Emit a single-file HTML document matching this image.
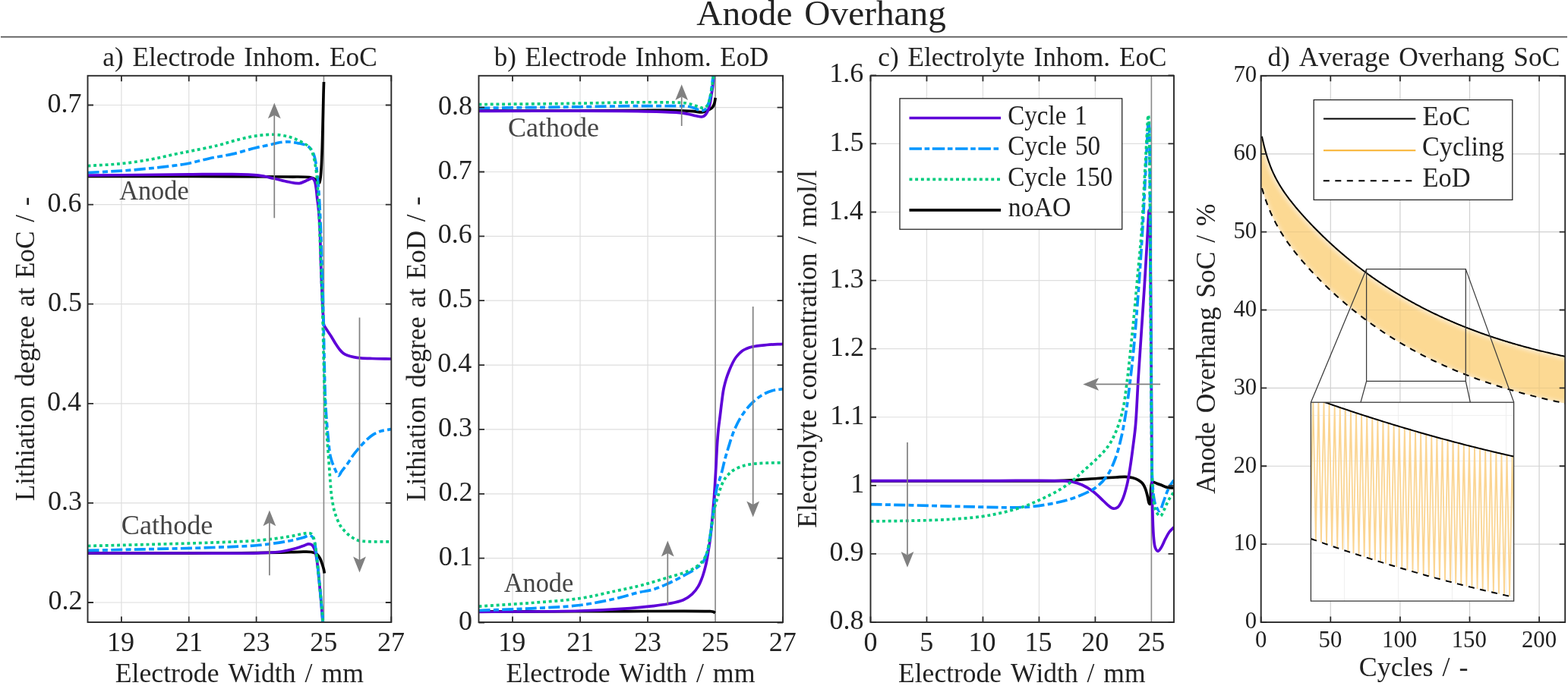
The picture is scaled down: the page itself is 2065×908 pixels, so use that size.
<!DOCTYPE html>
<html><head><meta charset="utf-8"><title>Anode Overhang</title>
<style>
html,body{margin:0;padding:0;background:#fff;}
svg{display:block;}
text{font-family:"Liberation Serif","DejaVu Serif",serif;font-kerning:none;font-variant-ligatures:none;word-spacing:0.085em;}
</style></head><body>
<svg width="2065" height="908" viewBox="0 0 2065 908">
<rect width="2065" height="908" fill="#fff"/>
<defs>
<clipPath id="ca"><rect x="115.5" y="99.8" width="399.79999999999995" height="720.2"/></clipPath>
<clipPath id="cb"><rect x="630.5" y="99.8" width="400.5999999999999" height="720.2"/></clipPath>
<clipPath id="cc"><rect x="1146.5" y="99.8" width="399.5" height="720.2"/></clipPath>
<clipPath id="cd"><rect x="1660.7" y="99.8" width="400.4999999999998" height="720.2"/></clipPath>
<clipPath id="ci"><rect x="1726.4" y="530.2" width="267.2" height="261.9"/></clipPath>
</defs>
<defs><clipPath id="cband"><path d="M1661.91,179.69 L1662.91,184.39 L1663.91,188.78 L1664.91,192.91 L1665.91,196.79 L1666.91,200.44 L1667.91,203.89 L1668.91,207.14 L1669.91,210.23 L1670.91,213.15 L1671.91,215.93 L1672.91,218.57 L1673.91,221.10 L1674.91,223.51 L1675.91,225.83 L1676.91,228.04 L1677.91,230.18 L1678.91,232.23 L1679.91,234.21 L1680.91,236.13 L1681.91,237.98 L1682.91,239.78 L1683.91,241.53 L1684.91,243.23 L1685.91,244.88 L1686.91,246.50 L1687.91,248.08 L1688.91,249.62 L1689.91,251.13 L1690.91,252.61 L1691.91,254.06 L1692.91,255.49 L1693.91,256.90 L1694.91,258.28 L1695.91,259.64 L1696.91,260.98 L1697.91,262.31 L1698.91,263.61 L1699.91,264.90 L1700.91,266.18 L1701.91,267.44 L1702.91,268.69 L1703.91,269.92 L1704.91,271.15 L1705.91,272.36 L1706.91,273.56 L1707.91,274.75 L1708.91,275.93 L1709.91,277.10 L1710.91,278.27 L1711.91,279.42 L1712.91,280.56 L1713.91,281.70 L1714.91,282.83 L1715.91,283.95 L1716.91,285.07 L1717.91,286.17 L1718.91,287.27 L1719.91,288.37 L1720.91,289.45 L1721.91,290.53 L1722.91,291.61 L1723.91,292.68 L1724.91,293.74 L1725.91,294.79 L1726.91,295.84 L1727.91,296.89 L1728.91,297.93 L1729.91,298.96 L1730.91,299.99 L1731.91,301.01 L1732.91,302.03 L1733.91,303.04 L1734.91,304.05 L1735.91,305.05 L1736.91,306.05 L1737.91,307.04 L1738.91,308.02 L1739.91,309.01 L1740.91,309.98 L1741.91,310.95 L1742.91,311.92 L1743.91,312.88 L1744.91,313.84 L1745.91,314.79 L1746.91,315.74 L1747.91,316.69 L1748.91,317.63 L1749.91,318.56 L1750.91,319.49 L1751.91,320.42 L1752.91,321.34 L1753.91,322.25 L1754.91,323.17 L1755.91,324.07 L1756.91,324.98 L1757.91,325.88 L1758.91,326.77 L1759.91,327.66 L1760.91,328.55 L1761.91,329.43 L1762.91,330.31 L1763.91,331.18 L1764.91,332.05 L1765.91,332.92 L1766.91,333.78 L1767.91,334.63 L1768.91,335.49 L1769.91,336.34 L1770.91,337.18 L1771.91,338.02 L1772.91,338.86 L1773.91,339.69 L1774.91,340.52 L1775.91,341.35 L1776.91,342.17 L1777.91,342.98 L1778.91,343.80 L1779.91,344.61 L1780.91,345.41 L1781.91,346.21 L1782.91,347.01 L1783.91,347.81 L1784.91,348.60 L1785.91,349.38 L1786.91,350.17 L1787.91,350.95 L1788.91,351.72 L1789.91,352.49 L1790.91,353.26 L1791.91,354.03 L1792.91,354.79 L1793.91,355.54 L1794.91,356.30 L1795.91,357.05 L1796.91,357.79 L1797.91,358.54 L1798.91,359.28 L1799.91,360.01 L1800.91,360.74 L1801.91,361.47 L1802.91,362.20 L1803.91,362.92 L1804.91,363.64 L1805.91,364.35 L1806.91,365.07 L1807.91,365.77 L1808.91,366.48 L1809.91,367.18 L1810.91,367.88 L1811.91,368.57 L1812.91,369.27 L1813.91,369.95 L1814.91,370.64 L1815.91,371.32 L1816.91,372.00 L1817.91,372.68 L1818.91,373.35 L1819.91,374.02 L1820.91,374.68 L1821.91,375.35 L1822.91,376.01 L1823.91,376.66 L1824.91,377.32 L1825.91,377.97 L1826.91,378.61 L1827.91,379.26 L1828.91,379.90 L1829.91,380.54 L1830.91,381.17 L1831.91,381.80 L1832.91,382.43 L1833.91,383.06 L1834.91,383.68 L1835.91,384.30 L1836.91,384.92 L1837.91,385.53 L1838.91,386.14 L1839.91,386.75 L1840.91,387.36 L1841.91,387.96 L1842.91,388.56 L1843.91,389.16 L1844.91,389.75 L1845.91,390.34 L1846.91,390.93 L1847.91,391.52 L1848.91,392.10 L1849.91,392.68 L1850.91,393.26 L1851.91,393.83 L1852.91,394.40 L1853.91,394.97 L1854.91,395.54 L1855.91,396.10 L1856.91,396.66 L1857.91,397.22 L1858.91,397.78 L1859.91,398.33 L1860.91,398.88 L1861.91,399.43 L1862.91,399.97 L1863.91,400.52 L1864.91,401.06 L1865.91,401.59 L1866.91,402.13 L1867.91,402.66 L1868.91,403.19 L1869.91,403.72 L1870.91,404.24 L1871.91,404.77 L1872.91,405.29 L1873.91,405.80 L1874.91,406.32 L1875.91,406.83 L1876.91,407.34 L1877.91,407.85 L1878.91,408.36 L1879.91,408.86 L1880.91,409.36 L1881.91,409.86 L1882.91,410.35 L1883.91,410.85 L1884.91,411.34 L1885.91,411.83 L1886.91,412.31 L1887.91,412.80 L1888.91,413.28 L1889.91,413.76 L1890.91,414.24 L1891.91,414.71 L1892.91,415.18 L1893.91,415.65 L1894.91,416.12 L1895.91,416.59 L1896.91,417.05 L1897.91,417.51 L1898.91,417.97 L1899.91,418.43 L1900.91,418.89 L1901.91,419.34 L1902.91,419.79 L1903.91,420.24 L1904.91,420.68 L1905.91,421.13 L1906.91,421.57 L1907.91,422.01 L1908.91,422.45 L1909.91,422.89 L1910.91,423.32 L1911.91,423.75 L1912.91,424.18 L1913.91,424.61 L1914.91,425.03 L1915.91,425.46 L1916.91,425.88 L1917.91,426.30 L1918.91,426.72 L1919.91,427.13 L1920.91,427.55 L1921.91,427.96 L1922.91,428.37 L1923.91,428.78 L1924.91,429.18 L1925.91,429.59 L1926.91,429.99 L1927.91,430.39 L1928.91,430.79 L1929.91,431.18 L1930.91,431.58 L1931.91,431.97 L1932.91,432.36 L1933.91,432.75 L1934.91,433.14 L1935.91,433.52 L1936.91,433.91 L1937.91,434.29 L1938.91,434.67 L1939.91,435.05 L1940.91,435.42 L1941.91,435.80 L1942.91,436.17 L1943.91,436.54 L1944.91,436.91 L1945.91,437.28 L1946.91,437.64 L1947.91,438.01 L1948.91,438.37 L1949.91,438.73 L1950.91,439.09 L1951.91,439.45 L1952.91,439.80 L1953.91,440.15 L1954.91,440.51 L1955.91,440.86 L1956.91,441.21 L1957.91,441.55 L1958.91,441.90 L1959.91,442.24 L1960.91,442.58 L1961.91,442.92 L1962.91,443.26 L1963.91,443.60 L1964.91,443.94 L1965.91,444.27 L1966.91,444.60 L1967.91,444.93 L1968.91,445.26 L1969.91,445.59 L1970.91,445.92 L1971.91,446.24 L1972.91,446.56 L1973.91,446.89 L1974.91,447.21 L1975.91,447.52 L1976.91,447.84 L1977.91,448.16 L1978.91,448.47 L1979.91,448.78 L1980.91,449.09 L1981.91,449.40 L1982.91,449.71 L1983.91,450.02 L1984.91,450.32 L1985.91,450.63 L1986.91,450.93 L1987.91,451.23 L1988.91,451.53 L1989.91,451.83 L1990.91,452.12 L1991.91,452.42 L1992.91,452.71 L1993.91,453.01 L1994.91,453.30 L1995.91,453.59 L1996.91,453.88 L1997.91,454.16 L1998.91,454.45 L1999.91,454.73 L2000.91,455.01 L2001.91,455.30 L2002.91,455.58 L2003.91,455.85 L2004.91,456.13 L2005.91,456.41 L2006.91,456.68 L2007.91,456.96 L2008.91,457.23 L2009.91,457.50 L2010.91,457.77 L2011.91,458.04 L2012.91,458.31 L2013.91,458.57 L2014.91,458.84 L2015.91,459.10 L2016.91,459.36 L2017.91,459.62 L2018.91,459.88 L2019.91,460.14 L2020.91,460.40 L2021.91,460.65 L2022.91,460.91 L2023.91,461.16 L2024.91,461.41 L2025.91,461.66 L2026.91,461.91 L2027.91,462.16 L2028.91,462.41 L2029.91,462.66 L2030.91,462.90 L2031.91,463.15 L2032.91,463.39 L2033.91,463.63 L2034.91,463.87 L2035.91,464.11 L2036.91,464.35 L2037.91,464.59 L2038.91,464.82 L2039.91,465.06 L2040.91,465.29 L2041.91,465.52 L2042.91,465.75 L2043.91,465.99 L2044.91,466.21 L2045.91,466.44 L2046.91,466.67 L2047.91,466.90 L2048.91,467.12 L2049.91,467.35 L2050.91,467.57 L2051.91,467.79 L2052.91,468.01 L2053.91,468.23 L2054.91,468.45 L2055.91,468.67 L2056.91,468.88 L2057.91,469.10 L2058.91,469.31 L2059.91,469.53 L2060.91,469.74 L2061.91,469.95 L2061.91,531.71 L2060.91,531.50 L2059.91,531.29 L2058.91,531.09 L2057.91,530.88 L2056.91,530.67 L2055.91,530.45 L2054.91,530.24 L2053.91,530.03 L2052.91,529.81 L2051.91,529.60 L2050.91,529.38 L2049.91,529.16 L2048.91,528.95 L2047.91,528.73 L2046.91,528.50 L2045.91,528.28 L2044.91,528.06 L2043.91,527.84 L2042.91,527.61 L2041.91,527.38 L2040.91,527.16 L2039.91,526.93 L2038.91,526.70 L2037.91,526.47 L2036.91,526.24 L2035.91,526.00 L2034.91,525.77 L2033.91,525.53 L2032.91,525.30 L2031.91,525.06 L2030.91,524.82 L2029.91,524.58 L2028.91,524.34 L2027.91,524.10 L2026.91,523.85 L2025.91,523.61 L2024.91,523.36 L2023.91,523.11 L2022.91,522.87 L2021.91,522.62 L2020.91,522.37 L2019.91,522.11 L2018.91,521.86 L2017.91,521.61 L2016.91,521.35 L2015.91,521.09 L2014.91,520.83 L2013.91,520.58 L2012.91,520.31 L2011.91,520.05 L2010.91,519.79 L2009.91,519.52 L2008.91,519.26 L2007.91,518.99 L2006.91,518.72 L2005.91,518.45 L2004.91,518.18 L2003.91,517.91 L2002.91,517.64 L2001.91,517.36 L2000.91,517.08 L1999.91,516.81 L1998.91,516.53 L1997.91,516.25 L1996.91,515.96 L1995.91,515.68 L1994.91,515.40 L1993.91,515.11 L1992.91,514.82 L1991.91,514.53 L1990.91,514.24 L1989.91,513.95 L1988.91,513.66 L1987.91,513.36 L1986.91,513.07 L1985.91,512.77 L1984.91,512.47 L1983.91,512.17 L1982.91,511.87 L1981.91,511.56 L1980.91,511.26 L1979.91,510.95 L1978.91,510.65 L1977.91,510.34 L1976.91,510.02 L1975.91,509.71 L1974.91,509.40 L1973.91,509.08 L1972.91,508.77 L1971.91,508.45 L1970.91,508.13 L1969.91,507.81 L1968.91,507.48 L1967.91,507.16 L1966.91,506.83 L1965.91,506.50 L1964.91,506.17 L1963.91,505.84 L1962.91,505.51 L1961.91,505.17 L1960.91,504.84 L1959.91,504.50 L1958.91,504.16 L1957.91,503.82 L1956.91,503.48 L1955.91,503.13 L1954.91,502.79 L1953.91,502.44 L1952.91,502.09 L1951.91,501.74 L1950.91,501.38 L1949.91,501.03 L1948.91,500.67 L1947.91,500.32 L1946.91,499.96 L1945.91,499.59 L1944.91,499.23 L1943.91,498.86 L1942.91,498.50 L1941.91,498.13 L1940.91,497.76 L1939.91,497.39 L1938.91,497.01 L1937.91,496.64 L1936.91,496.26 L1935.91,495.88 L1934.91,495.50 L1933.91,495.11 L1932.91,494.73 L1931.91,494.34 L1930.91,493.95 L1929.91,493.56 L1928.91,493.17 L1927.91,492.77 L1926.91,492.37 L1925.91,491.98 L1924.91,491.57 L1923.91,491.17 L1922.91,490.77 L1921.91,490.36 L1920.91,489.95 L1919.91,489.54 L1918.91,489.13 L1917.91,488.71 L1916.91,488.30 L1915.91,487.88 L1914.91,487.46 L1913.91,487.03 L1912.91,486.61 L1911.91,486.18 L1910.91,485.75 L1909.91,485.32 L1908.91,484.89 L1907.91,484.45 L1906.91,484.02 L1905.91,483.58 L1904.91,483.13 L1903.91,482.69 L1902.91,482.24 L1901.91,481.80 L1900.91,481.34 L1899.91,480.89 L1898.91,480.44 L1897.91,479.98 L1896.91,479.52 L1895.91,479.06 L1894.91,478.59 L1893.91,478.13 L1892.91,477.66 L1891.91,477.19 L1890.91,476.72 L1889.91,476.24 L1888.91,475.76 L1887.91,475.28 L1886.91,474.80 L1885.91,474.32 L1884.91,473.83 L1883.91,473.34 L1882.91,472.85 L1881.91,472.35 L1880.91,471.86 L1879.91,471.36 L1878.91,470.85 L1877.91,470.35 L1876.91,469.84 L1875.91,469.33 L1874.91,468.82 L1873.91,468.31 L1872.91,467.79 L1871.91,467.27 L1870.91,466.75 L1869.91,466.23 L1868.91,465.70 L1867.91,465.17 L1866.91,464.64 L1865.91,464.10 L1864.91,463.57 L1863.91,463.03 L1862.91,462.48 L1861.91,461.94 L1860.91,461.39 L1859.91,460.84 L1858.91,460.29 L1857.91,459.73 L1856.91,459.17 L1855.91,458.61 L1854.91,458.05 L1853.91,457.48 L1852.91,456.91 L1851.91,456.34 L1850.91,455.76 L1849.91,455.19 L1848.91,454.61 L1847.91,454.02 L1846.91,453.44 L1845.91,452.85 L1844.91,452.25 L1843.91,451.66 L1842.91,451.06 L1841.91,450.46 L1840.91,449.86 L1839.91,449.25 L1838.91,448.64 L1837.91,448.03 L1836.91,447.41 L1835.91,446.79 L1834.91,446.17 L1833.91,445.54 L1832.91,444.92 L1831.91,444.28 L1830.91,443.65 L1829.91,443.01 L1828.91,442.37 L1827.91,441.73 L1826.91,441.08 L1825.91,440.43 L1824.91,439.78 L1823.91,439.12 L1822.91,438.46 L1821.91,437.80 L1820.91,437.14 L1819.91,436.47 L1818.91,435.79 L1817.91,435.12 L1816.91,434.44 L1815.91,433.76 L1814.91,433.07 L1813.91,432.38 L1812.91,431.69 L1811.91,430.99 L1810.91,430.29 L1809.91,429.59 L1808.91,428.89 L1807.91,428.18 L1806.91,427.46 L1805.91,426.75 L1804.91,426.03 L1803.91,425.30 L1802.91,424.57 L1801.91,423.84 L1800.91,423.11 L1799.91,422.37 L1798.91,421.63 L1797.91,420.89 L1796.91,420.14 L1795.91,419.38 L1794.91,418.63 L1793.91,417.87 L1792.91,417.10 L1791.91,416.34 L1790.91,415.57 L1789.91,414.79 L1788.91,414.01 L1787.91,413.23 L1786.91,412.44 L1785.91,411.65 L1784.91,410.86 L1783.91,410.06 L1782.91,409.26 L1781.91,408.45 L1780.91,407.64 L1779.91,406.83 L1778.91,406.01 L1777.91,405.19 L1776.91,404.36 L1775.91,403.53 L1774.91,402.70 L1773.91,401.86 L1772.91,401.02 L1771.91,400.17 L1770.91,399.32 L1769.91,398.46 L1768.91,397.60 L1767.91,396.74 L1766.91,395.87 L1765.91,395.00 L1764.91,394.12 L1763.91,393.24 L1762.91,392.36 L1761.91,391.47 L1760.91,390.57 L1759.91,389.67 L1758.91,388.77 L1757.91,387.86 L1756.91,386.95 L1755.91,386.03 L1754.91,385.11 L1753.91,384.19 L1752.91,383.25 L1751.91,382.32 L1750.91,381.38 L1749.91,380.43 L1748.91,379.48 L1747.91,378.53 L1746.91,377.56 L1745.91,376.60 L1744.91,375.63 L1743.91,374.65 L1742.91,373.67 L1741.91,372.69 L1740.91,371.69 L1739.91,370.70 L1738.91,369.69 L1737.91,368.69 L1736.91,367.67 L1735.91,366.65 L1734.91,365.63 L1733.91,364.60 L1732.91,363.56 L1731.91,362.52 L1730.91,361.47 L1729.91,360.42 L1728.91,359.36 L1727.91,358.29 L1726.91,357.22 L1725.91,356.14 L1724.91,355.05 L1723.91,353.96 L1722.91,352.86 L1721.91,351.75 L1720.91,350.63 L1719.91,349.51 L1718.91,348.38 L1717.91,347.24 L1716.91,346.09 L1715.91,344.94 L1714.91,343.78 L1713.91,342.60 L1712.91,341.42 L1711.91,340.23 L1710.91,339.03 L1709.91,337.82 L1708.91,336.60 L1707.91,335.36 L1706.91,334.12 L1705.91,332.87 L1704.91,331.60 L1703.91,330.32 L1702.91,329.03 L1701.91,327.72 L1700.91,326.40 L1699.91,325.06 L1698.91,323.71 L1697.91,322.34 L1696.91,320.96 L1695.91,319.55 L1694.91,318.13 L1693.91,316.69 L1692.91,315.23 L1691.91,313.74 L1690.91,312.23 L1689.91,310.70 L1688.91,309.14 L1687.91,307.55 L1686.91,305.93 L1685.91,304.29 L1684.91,302.61 L1683.91,300.89 L1682.91,299.14 L1681.91,297.35 L1680.91,295.52 L1679.91,293.64 L1678.91,291.72 L1677.91,289.75 L1676.91,287.72 L1675.91,285.64 L1674.91,283.50 L1673.91,281.29 L1672.91,279.02 L1671.91,276.67 L1670.91,274.25 L1669.91,271.74 L1668.91,269.14 L1667.91,266.45 L1666.91,263.66 L1665.91,260.76 L1664.91,257.74 L1663.91,254.60 L1662.91,251.33 L1661.91,247.92Z"/></clipPath><filter id="bl3" x="-10%" y="-10%" width="120%" height="120%"><feGaussianBlur stdDeviation="3"/></filter><filter id="bl2" x="-10%" y="-10%" width="120%" height="120%"><feGaussianBlur stdDeviation="2"/></filter></defs>
<path d="M1,48.6H2064" stroke="#555" stroke-width="1.7"/>
<path d="M159.92,99.80V820.00 M248.76,99.80V820.00 M337.60,99.80V820.00 M426.44,99.80V820.00 M115.50,794.00H515.30 M115.50,662.90H515.30 M115.50,531.80H515.30 M115.50,400.70H515.30 M115.50,269.60H515.30 M115.50,138.50H515.30" stroke="#dedede" stroke-width="1.2" fill="none"/>
<path d="M426.44,99.8V820.0" stroke="#8a8a8a" stroke-width="1.6"/>
<path d="M115.50,232.30 C177.00,232.40 251.16,232.44 300.00,232.60 C332.16,232.71 360.29,232.74 380.00,233.00 C391.56,233.15 401.54,232.68 407.50,233.60 C410.46,234.06 412.13,234.46 414.00,235.50 C415.76,236.48 417.35,238.42 418.50,239.50 C419.25,240.21 419.81,241.43 420.30,241.30 C421.03,241.11 421.38,238.27 421.80,236.00 C422.51,232.13 422.81,225.93 423.20,220.00 C423.69,212.60 423.99,204.03 424.30,195.00 C424.67,184.31 424.92,171.67 425.20,160.00 C425.48,148.33 425.75,134.58 426.00,125.00 C426.17,118.32 426.33,113.67 426.50,108.00" stroke="#000000" stroke-width="3.7" fill="none" stroke-linejoin="round" clip-path="url(#ca)"/>
<path d="M115.50,729.20 C177.00,729.13 253.12,729.29 300.00,729.00 C328.88,728.82 352.55,728.61 370.00,728.20 C380.43,727.95 387.72,727.38 395.00,727.30 C400.63,727.24 405.99,726.78 410.00,727.50 C412.82,728.01 415.09,728.59 417.00,730.00 C418.92,731.42 420.27,733.76 421.50,736.00 C422.81,738.39 423.66,741.51 424.50,744.00 C425.22,746.13 425.83,748.03 426.30,750.00 C426.75,751.86 426.97,753.67 427.30,755.50" stroke="#000000" stroke-width="3.7" fill="none" stroke-linejoin="round" clip-path="url(#ca)"/>
<path d="M115.50,231.20 C159.77,230.77 214.32,230.17 248.30,229.90 C269.46,229.73 283.65,229.33 299.80,229.60 C314.17,229.84 329.31,229.86 340.50,231.20 C348.48,232.16 354.14,233.85 360.80,235.30 C367.30,236.72 374.04,238.73 380.00,239.80 C385.09,240.71 389.91,242.15 394.30,241.60 C398.27,241.11 402.15,238.52 405.30,237.30 C407.66,236.38 409.95,234.47 411.50,234.90 C412.79,235.26 413.56,236.91 414.30,238.50 C415.38,240.83 415.75,244.51 416.30,248.00 C416.97,252.20 417.27,257.42 417.80,262.00 C418.31,266.42 418.91,269.96 419.40,275.00 C420.08,281.98 420.70,290.23 421.20,300.00 C421.90,313.80 422.12,333.27 422.70,350.00 C423.29,366.87 424.08,387.91 424.70,400.80 C425.08,408.73 425.41,414.98 425.80,420.00 C426.06,423.24 425.84,425.60 426.60,428.00 C427.31,430.23 428.66,431.82 430.00,434.00 C431.68,436.72 434.04,439.90 436.00,443.00 C438.04,446.22 439.98,449.89 442.00,453.00 C443.85,455.85 445.76,458.78 447.60,461.00 C449.08,462.79 450.31,464.25 452.00,465.50 C453.76,466.80 455.80,467.77 458.00,468.60 C460.43,469.52 463.24,470.07 466.00,470.60 C468.90,471.15 471.61,471.50 475.00,471.80 C479.36,472.19 484.35,472.31 490.00,472.50 C497.34,472.74 506.87,472.83 515.30,473.00" stroke="#5e00d8" stroke-width="3.7" fill="none" stroke-linejoin="round" clip-path="url(#ca)"/>
<path d="M115.50,729.00 C160.33,729.00 209.65,729.04 250.00,729.00 C283.00,728.96 318.05,729.48 340.00,728.80 C352.69,728.41 361.06,728.27 370.00,727.00 C377.39,725.95 384.51,724.02 390.00,722.50 C393.94,721.41 397.02,720.21 400.00,719.20 C402.43,718.38 404.62,716.93 406.60,716.90 C408.21,716.88 409.78,717.32 411.00,718.30 C412.45,719.47 413.40,721.71 414.30,724.00 C415.48,727.00 416.09,731.03 416.80,735.00 C417.63,739.60 418.15,744.36 418.80,750.00 C419.63,757.27 420.42,766.67 421.20,775.00 C421.98,783.33 422.82,791.66 423.50,800.00 C424.18,808.33 424.70,816.67 425.30,825.00" stroke="#5e00d8" stroke-width="3.7" fill="none" stroke-linejoin="round" clip-path="url(#ca)"/>
<path d="M115.50,227.50 C130.40,226.70 145.74,226.12 160.20,225.10 C173.86,224.13 187.68,222.84 200.00,221.60 C210.71,220.52 221.49,219.33 230.00,218.20 C236.32,217.36 240.23,216.91 246.50,215.70 C254.96,214.06 266.14,210.82 276.10,208.70 C286.17,206.55 296.49,205.22 306.60,202.90 C316.79,200.56 328.38,196.78 337.00,194.70 C343.31,193.18 348.00,192.40 353.50,191.20 C359.00,190.00 364.87,188.17 370.00,187.50 C374.37,186.93 378.45,186.76 382.30,187.00 C385.74,187.21 388.75,187.94 392.00,188.60 C395.32,189.27 399.11,189.74 402.00,191.00 C404.54,192.11 406.79,193.48 408.60,195.40 C410.49,197.41 411.84,200.06 413.00,202.90 C414.33,206.16 415.07,210.21 415.80,214.00 C416.55,217.90 416.89,221.67 417.40,226.00 C418.00,231.08 418.60,236.85 419.10,242.60 C419.64,248.81 420.05,254.45 420.50,262.00 C421.13,272.55 421.75,286.46 422.30,300.00 C422.93,315.52 423.47,333.33 424.00,350.00 C424.53,366.67 425.04,381.93 425.50,400.00 C426.05,421.37 426.51,448.63 427.00,470.00 C427.41,488.07 427.68,506.20 428.20,520.00 C428.57,529.77 428.91,536.29 429.50,545.00 C430.15,554.55 431.01,565.30 432.00,575.00 C432.93,584.17 433.72,594.93 435.20,601.70 C436.14,605.99 437.35,608.92 438.50,612.00 C439.46,614.58 440.35,616.61 441.50,619.00 C442.76,621.60 444.30,626.91 445.80,627.00 C447.15,627.08 448.34,623.26 450.00,621.00 C452.23,617.96 455.57,614.05 458.10,610.50 C460.56,607.05 462.59,603.30 465.00,600.00 C467.30,596.85 469.56,594.15 472.20,591.10 C475.16,587.67 478.64,583.67 482.00,580.50 C485.12,577.56 488.18,574.71 491.60,572.60 C494.87,570.59 498.25,569.15 502.00,568.00 C506.09,566.75 510.87,566.40 515.30,565.60" stroke="#0096ff" stroke-width="3.7" fill="none" stroke-linejoin="round" stroke-dasharray="15 4.3 7 4.3" clip-path="url(#ca)"/>
<path d="M115.50,725.40 C143.67,724.80 172.22,724.26 200.00,723.60 C227.03,722.96 255.25,722.44 280.00,721.50 C301.44,720.68 322.05,720.18 340.00,718.50 C354.71,717.12 369.00,715.07 380.00,713.00 C387.85,711.52 395.03,709.72 400.00,708.20 C403.04,707.27 405.18,705.48 407.20,705.50 C408.67,705.51 409.96,705.99 411.00,707.00 C412.42,708.38 413.18,711.21 414.00,714.00 C415.13,717.81 415.67,722.80 416.40,728.00 C417.31,734.50 417.97,742.10 418.80,750.00 C419.76,759.22 420.85,770.00 421.80,780.00 C422.75,790.00 423.82,801.71 424.50,810.00 C424.98,815.86 425.23,820.00 425.60,825.00" stroke="#0096ff" stroke-width="3.7" fill="none" stroke-linejoin="round" stroke-dasharray="15 4.3 7 4.3" clip-path="url(#ca)"/>
<path d="M115.50,218.60 C130.40,217.60 145.76,217.13 160.20,215.60 C173.88,214.15 187.70,212.03 200.00,209.80 C210.74,207.86 220.48,205.28 230.00,203.30 C238.62,201.51 245.88,200.21 254.70,198.40 C264.89,196.31 277.46,193.91 287.60,191.40 C296.46,189.20 304.03,186.46 312.30,184.40 C320.50,182.36 328.73,180.28 337.00,179.10 C345.19,177.93 354.31,177.03 361.70,177.30 C367.77,177.52 373.75,178.72 378.20,179.70 C381.31,180.38 383.58,181.13 386.00,182.00 C388.18,182.78 390.04,183.63 392.10,184.60 C394.28,185.62 396.53,186.75 398.70,188.00 C400.93,189.28 403.42,190.56 405.30,192.20 C407.05,193.73 408.48,195.32 409.70,197.40 C411.14,199.85 412.10,203.06 413.00,206.20 C413.98,209.63 414.56,213.43 415.20,217.20 C415.87,221.15 416.44,225.25 416.90,229.40 C417.38,233.71 417.64,237.78 418.00,242.60 C418.44,248.44 418.90,254.45 419.30,262.00 C419.86,272.55 420.29,286.47 420.80,300.00 C421.39,315.52 421.98,333.33 422.60,350.00 C423.22,366.67 423.94,381.93 424.50,400.00 C425.17,421.37 425.66,448.63 426.20,470.00 C426.65,488.07 427.04,506.19 427.50,520.00 C427.82,529.76 428.04,536.29 428.50,545.00 C429.01,554.55 429.80,565.46 430.50,575.00 C431.14,583.72 431.85,591.43 432.50,600.00 C433.19,609.07 433.81,619.03 434.50,628.00 C435.14,636.31 435.52,644.39 436.50,652.00 C437.40,658.99 438.54,666.23 440.00,672.00 C441.15,676.56 442.44,680.23 444.00,684.00 C445.47,687.54 447.05,691.07 449.00,694.00 C450.77,696.66 452.83,698.83 455.00,701.00 C457.17,703.17 459.42,705.21 462.00,707.00 C464.73,708.90 467.55,710.88 471.00,712.00 C475.04,713.31 479.43,713.34 485.00,713.70 C493.16,714.22 505.20,713.83 515.30,713.90" stroke="#00cc7e" stroke-width="3.7" fill="none" stroke-linejoin="round" stroke-dasharray="3.9 3.8" clip-path="url(#ca)"/>
<path d="M115.50,719.50 C143.67,718.80 172.22,718.16 200.00,717.40 C227.03,716.66 255.25,715.95 280.00,715.00 C301.44,714.18 322.05,713.74 340.00,712.20 C354.71,710.94 369.32,708.93 380.00,707.20 C387.21,706.03 393.38,704.42 398.00,703.60 C400.87,703.09 402.87,702.46 405.00,702.50 C406.81,702.54 408.65,702.50 410.00,703.50 C411.62,704.70 412.57,707.29 413.50,710.00 C414.83,713.89 415.21,719.35 416.00,725.00 C417.01,732.26 417.88,741.28 418.80,750.00 C419.81,759.54 420.85,770.00 421.80,780.00 C422.75,790.00 423.82,801.71 424.50,810.00 C424.98,815.86 425.23,820.00 425.60,825.00" stroke="#00cc7e" stroke-width="3.7" fill="none" stroke-linejoin="round" stroke-dasharray="3.9 3.8" clip-path="url(#ca)"/>
<path d="M361.30,287.30L361.30,151.70" stroke="#808080" stroke-width="1.7" fill="none"/>
<path d="M361.30,135.40L369.70,156.20L361.30,151.70L352.90,156.20Z" fill="#808080"/>
<path d="M473.50,418.50L473.50,738.10" stroke="#808080" stroke-width="1.7" fill="none"/>
<path d="M473.50,754.40L465.10,733.60L473.50,738.10L481.90,733.60Z" fill="#808080"/>
<path d="M354.90,758.30L354.90,688.70" stroke="#808080" stroke-width="1.7" fill="none"/>
<path d="M354.90,672.40L363.30,693.20L354.90,688.70L346.50,693.20Z" fill="#808080"/>
<path d="M159.92,820.00v-7.5 M159.92,99.80v7.5 M248.76,820.00v-7.5 M248.76,99.80v7.5 M337.60,820.00v-7.5 M337.60,99.80v7.5 M515.28,820.00v-7.5 M515.28,99.80v7.5 M115.50,794.00h7.5 M515.30,794.00h-7.5 M115.50,662.90h7.5 M515.30,662.90h-7.5 M115.50,531.80h7.5 M515.30,531.80h-7.5 M115.50,400.70h7.5 M515.30,400.70h-7.5 M115.50,269.60h7.5 M515.30,269.60h-7.5 M115.50,138.50h7.5 M515.30,138.50h-7.5" stroke="#2a2a2a" stroke-width="1.8" fill="none"/>
<rect x="115.50" y="99.80" width="399.80" height="720.20" stroke="#2a2a2a" stroke-width="1.9" fill="none"/>
<path d="M675.01,99.80V820.00 M764.03,99.80V820.00 M853.05,99.80V820.00 M942.07,99.80V820.00 M630.50,735.64H1031.10 M630.50,650.78H1031.10 M630.50,565.92H1031.10 M630.50,481.06H1031.10 M630.50,396.20H1031.10 M630.50,311.34H1031.10 M630.50,226.48H1031.10 M630.50,141.62H1031.10" stroke="#dedede" stroke-width="1.2" fill="none"/>
<path d="M942.07,99.8V820.0" stroke="#8a8a8a" stroke-width="1.6"/>
<path d="M630.50,146.20 C700.33,146.00 794.16,145.71 840.00,145.60 C862.39,145.55 876.52,145.16 890.00,145.50 C899.17,145.73 906.85,146.22 913.10,146.70 C917.38,147.03 921.07,147.96 923.90,147.80 C925.77,147.69 926.98,147.28 928.50,146.80 C930.08,146.30 931.67,145.59 933.20,144.80 C934.77,143.99 936.58,143.27 937.80,142.00 C939.06,140.69 939.89,138.93 940.60,137.00 C941.45,134.68 941.67,131.60 942.20,128.90" stroke="#000000" stroke-width="3.7" fill="none" stroke-linejoin="round" clip-path="url(#cb)"/>
<path d="M630.50,805.90 C687.00,805.83 746.67,805.73 800.00,805.70 C847.67,805.67 922.03,804.73 935.40,805.70 C937.74,805.87 938.37,805.87 939.50,806.30 C940.42,806.65 941.03,807.30 941.80,807.80" stroke="#000000" stroke-width="3.7" fill="none" stroke-linejoin="round" clip-path="url(#cb)"/>
<path d="M630.50,146.30 C700.33,146.40 794.17,145.83 840.00,146.60 C862.40,146.97 878.12,147.28 890.00,148.20 C896.62,148.71 900.65,149.26 905.40,150.10 C909.56,150.84 913.62,152.11 917.00,152.80 C919.59,153.33 921.95,154.19 923.90,154.00 C925.41,153.85 926.62,153.39 927.80,152.50 C929.25,151.40 930.53,149.45 931.60,147.40 C932.93,144.87 933.85,141.62 934.70,138.20 C935.73,134.08 936.31,128.55 937.00,124.30 C937.59,120.69 938.13,118.05 938.60,114.30 C939.20,109.54 939.64,102.47 940.10,98.00 C940.42,94.86 940.70,92.67 941.00,90.00" stroke="#5e00d8" stroke-width="3.7" fill="none" stroke-linejoin="round" clip-path="url(#cb)"/>
<path d="M630.50,806.30 C675.00,805.87 727.27,806.12 764.00,805.00 C789.84,804.21 812.29,802.91 830.00,801.60 C841.96,800.71 851.05,799.79 860.00,798.70 C867.30,797.81 873.22,797.10 879.80,795.80 C886.46,794.48 894.09,793.28 899.70,790.80 C904.38,788.73 908.24,785.99 911.60,782.90 C914.77,779.98 917.25,776.67 919.50,772.90 C921.95,768.79 923.84,763.68 925.50,759.00 C927.12,754.44 928.27,749.99 929.40,745.20 C930.60,740.11 931.45,734.91 932.40,729.30 C933.46,723.05 934.48,716.71 935.40,709.40 C936.52,700.50 937.53,689.06 938.40,679.70 C939.17,671.33 939.85,663.04 940.40,655.90 C940.85,650.07 941.11,646.14 941.50,640.00 C942.03,631.58 942.68,619.49 943.20,610.00 C943.67,601.42 943.97,593.30 944.50,585.50 C944.99,578.36 945.53,571.39 946.20,565.00 C946.79,559.36 947.52,554.64 948.20,549.10 C948.95,543.03 949.68,536.20 950.50,530.00 C951.28,524.09 951.92,518.10 953.00,512.70 C953.97,507.84 955.20,503.23 956.50,499.00 C957.66,495.24 958.94,491.89 960.30,488.50 C961.61,485.23 963.01,481.94 964.50,479.00 C965.86,476.31 966.87,474.03 968.80,471.50 C971.24,468.31 974.81,464.23 978.50,461.80 C982.10,459.44 986.01,458.19 990.60,457.00 C996.23,455.55 1003.39,455.11 1010.00,454.50 C1016.87,453.86 1024.07,453.70 1031.10,453.30" stroke="#5e00d8" stroke-width="3.7" fill="none" stroke-linejoin="round" clip-path="url(#cb)"/>
<path d="M630.50,142.40 C670.33,141.93 712.99,141.50 750.00,141.00 C782.12,140.56 814.38,139.77 840.00,139.60 C859.10,139.47 878.28,139.53 890.00,139.70 C896.36,139.79 900.50,139.57 904.70,140.10 C907.91,140.50 910.15,141.14 913.10,142.00 C916.50,143.00 921.03,145.85 923.90,145.90 C925.78,145.94 927.23,145.54 928.60,144.40 C930.52,142.81 931.97,139.18 933.20,135.90 C934.69,131.92 935.37,127.29 936.30,122.00 C937.51,115.11 938.62,103.86 939.40,98.00 C939.85,94.62 940.13,92.67 940.50,90.00" stroke="#0096ff" stroke-width="3.7" fill="none" stroke-linejoin="round" stroke-dasharray="15 4.3 7 4.3" clip-path="url(#cb)"/>
<path d="M630.50,804.50 C653.67,803.60 677.32,803.00 700.00,801.80 C721.78,800.65 744.49,799.95 764.00,797.50 C780.66,795.41 796.35,792.08 810.00,789.00 C821.12,786.49 830.98,783.12 840.00,781.00 C847.31,779.28 853.44,778.87 860.00,776.90 C866.71,774.89 873.25,771.94 879.80,769.00 C886.49,765.99 893.70,762.21 899.70,759.00 C904.79,756.28 909.27,754.10 913.60,751.10 C917.86,748.15 922.53,745.20 925.50,741.20 C928.44,737.25 929.82,732.55 931.40,727.30 C933.31,720.94 934.23,712.78 935.40,705.50 C936.56,698.25 937.44,691.14 938.40,683.70 C939.41,675.92 940.23,667.17 941.30,659.80 C942.22,653.42 943.11,646.73 944.30,642.00 C945.11,638.77 946.06,636.95 947.00,634.00 C948.15,630.39 949.43,626.22 950.60,621.90 C951.94,616.98 953.08,611.27 954.50,606.00 C955.92,600.73 957.33,595.94 959.10,590.30 C961.20,583.61 963.51,575.46 966.40,568.50 C969.20,561.74 972.36,555.06 976.10,549.10 C979.67,543.40 983.71,538.09 988.20,533.40 C992.59,528.81 997.62,524.38 1002.70,521.20 C1007.36,518.28 1012.40,516.12 1017.30,514.70 C1021.87,513.38 1026.50,513.37 1031.10,512.70" stroke="#0096ff" stroke-width="3.7" fill="none" stroke-linejoin="round" stroke-dasharray="15 4.3 7 4.3" clip-path="url(#cb)"/>
<path d="M630.50,137.60 C670.33,137.20 712.99,136.91 750.00,136.40 C782.12,135.95 814.38,134.95 840.00,134.80 C859.10,134.69 878.50,134.73 890.00,135.10 C896.07,135.29 899.97,135.31 903.90,135.90 C906.87,136.35 909.05,137.04 911.60,137.80 C914.19,138.57 916.79,139.72 919.30,140.50 C921.65,141.23 924.10,142.71 926.20,142.40 C928.18,142.11 930.23,140.70 931.60,139.00 C933.24,136.97 933.84,133.64 934.70,130.50 C935.71,126.79 936.32,122.02 937.00,118.10 C937.61,114.59 938.08,111.44 938.60,108.10 C939.12,104.74 939.69,101.17 940.10,98.00 C940.47,95.18 940.70,92.67 941.00,90.00" stroke="#00cc7e" stroke-width="3.7" fill="none" stroke-linejoin="round" stroke-dasharray="3.9 3.8" clip-path="url(#cb)"/>
<path d="M630.50,799.10 C653.67,797.57 677.32,796.31 700.00,794.50 C721.79,792.76 744.50,791.42 764.00,788.50 C780.67,786.00 796.31,781.90 810.00,779.00 C821.07,776.66 831.04,774.70 840.00,772.50 C847.37,770.69 853.36,768.92 860.00,767.00 C866.63,765.08 873.19,762.98 879.80,761.00 C886.42,759.02 893.72,757.27 899.70,755.10 C904.81,753.25 909.32,751.73 913.60,749.10 C917.93,746.44 922.50,743.04 925.50,739.20 C928.31,735.61 929.84,731.76 931.40,727.00 C933.39,720.95 934.22,712.59 935.40,705.50 C936.55,698.60 937.39,691.29 938.40,685.00 C939.26,679.60 939.98,674.59 941.00,670.00 C941.88,666.03 942.94,662.66 944.00,659.00 C945.07,655.32 946.27,651.47 947.40,648.00 C948.43,644.84 949.32,641.82 950.50,639.00 C951.60,636.37 952.67,633.96 954.20,631.60 C955.81,629.12 957.90,626.57 960.00,624.50 C961.98,622.54 963.81,620.97 966.40,619.40 C969.69,617.40 974.20,615.35 978.50,614.00 C983.04,612.57 987.95,611.83 993.00,611.20 C998.42,610.52 1004.03,610.45 1010.00,610.20 C1016.65,609.93 1024.07,609.87 1031.10,609.70" stroke="#00cc7e" stroke-width="3.7" fill="none" stroke-linejoin="round" stroke-dasharray="3.9 3.8" clip-path="url(#cb)"/>
<path d="M897.70,166.00L897.70,127.50" stroke="#808080" stroke-width="1.7" fill="none"/>
<path d="M897.70,111.20L906.10,132.00L897.70,127.50L889.30,132.00Z" fill="#808080"/>
<path d="M991.70,403.90L991.70,665.10" stroke="#808080" stroke-width="1.7" fill="none"/>
<path d="M991.70,681.40L983.30,660.60L991.70,665.10L1000.10,660.60Z" fill="#808080"/>
<path d="M879.30,797.00L879.30,728.90" stroke="#808080" stroke-width="1.7" fill="none"/>
<path d="M879.30,712.60L887.70,733.40L879.30,728.90L870.90,733.40Z" fill="#808080"/>
<path d="M675.01,820.00v-7.5 M675.01,99.80v7.5 M764.03,820.00v-7.5 M764.03,99.80v7.5 M853.05,820.00v-7.5 M853.05,99.80v7.5 M1031.09,820.00v-7.5 M1031.09,99.80v7.5 M630.50,820.50h7.5 M1031.10,820.50h-7.5 M630.50,735.64h7.5 M1031.10,735.64h-7.5 M630.50,650.78h7.5 M1031.10,650.78h-7.5 M630.50,565.92h7.5 M1031.10,565.92h-7.5 M630.50,481.06h7.5 M1031.10,481.06h-7.5 M630.50,396.20h7.5 M1031.10,396.20h-7.5 M630.50,311.34h7.5 M1031.10,311.34h-7.5 M630.50,226.48h7.5 M1031.10,226.48h-7.5 M630.50,141.62h7.5 M1031.10,141.62h-7.5" stroke="#2a2a2a" stroke-width="1.8" fill="none"/>
<rect x="630.50" y="99.80" width="400.60" height="720.20" stroke="#2a2a2a" stroke-width="1.9" fill="none"/>
<path d="M1220.48,99.80V820.00 M1294.46,99.80V820.00 M1368.44,99.80V820.00 M1442.42,99.80V820.00 M1516.40,99.80V820.00 M1146.50,729.92H1546.00 M1146.50,639.84H1546.00 M1146.50,549.76H1546.00 M1146.50,459.68H1546.00 M1146.50,369.60H1546.00 M1146.50,279.52H1546.00 M1146.50,189.44H1546.00" stroke="#dedede" stroke-width="1.2" fill="none"/>
<path d="M1516.40,99.8V820.0" stroke="#8a8a8a" stroke-width="1.6"/>
<path d="M1146.50,633.80 C1197.67,633.80 1254.94,633.85 1300.00,633.80 C1335.45,633.76 1373.53,634.18 1395.00,633.60 C1406.02,633.30 1411.67,632.82 1420.00,632.30 C1428.34,631.78 1436.67,631.05 1445.00,630.50 C1453.33,629.95 1463.19,629.38 1470.00,629.00 C1474.69,628.74 1478.10,628.23 1481.90,628.40 C1485.41,628.55 1488.93,628.99 1492.00,629.80 C1494.73,630.52 1497.29,631.46 1499.50,632.80 C1501.59,634.07 1503.53,635.66 1505.00,637.50 C1506.46,639.33 1507.35,641.45 1508.30,643.80 C1509.40,646.53 1510.19,649.86 1511.00,653.00 C1511.83,656.25 1512.33,661.19 1513.20,663.00 C1513.58,663.79 1514.08,664.59 1514.40,664.50 C1515.11,664.29 1515.05,658.48 1515.30,655.00 C1515.60,650.79 1515.43,644.57 1516.00,641.00 C1516.36,638.72 1516.29,636.19 1517.50,635.50 C1518.79,634.76 1521.72,636.54 1523.80,637.20 C1525.89,637.87 1527.88,638.68 1530.00,639.50 C1532.27,640.37 1534.47,641.71 1537.00,642.30 C1539.77,642.95 1543.00,642.77 1546.00,643.00" stroke="#000000" stroke-width="3.7" fill="none" stroke-linejoin="round" clip-path="url(#cc)"/>
<path d="M1146.50,633.60 C1197.67,633.60 1254.88,633.60 1300.00,633.60 C1335.59,633.60 1376.82,632.81 1395.50,633.60 C1403.28,633.93 1406.88,634.01 1412.00,635.00 C1416.64,635.90 1420.63,637.05 1425.00,639.00 C1429.95,641.21 1435.34,644.51 1440.00,648.00 C1444.68,651.51 1449.33,656.61 1453.00,660.00 C1455.69,662.49 1457.61,664.74 1460.00,666.50 C1462.12,668.05 1464.37,669.97 1466.50,670.20 C1468.36,670.40 1470.33,669.78 1472.00,668.50 C1474.33,666.72 1476.21,662.88 1478.00,659.00 C1480.42,653.76 1482.40,646.35 1484.10,639.40 C1485.97,631.77 1487.14,623.57 1488.50,615.00 C1490.00,605.53 1491.39,594.55 1492.60,585.00 C1493.70,576.29 1494.62,570.14 1495.50,560.00 C1496.87,544.32 1497.75,520.00 1499.00,500.00 C1500.25,480.00 1501.67,460.00 1503.00,440.00 C1504.33,420.00 1505.73,400.00 1507.00,380.00 C1508.27,360.00 1509.63,336.57 1510.60,320.00 C1511.28,308.28 1511.77,297.94 1512.30,290.00 C1512.65,284.77 1512.88,277.02 1513.30,277.00 C1513.56,276.99 1513.95,279.46 1514.20,282.00 C1514.96,289.79 1514.77,311.51 1515.00,330.00 C1515.31,355.32 1515.47,389.21 1515.70,420.00 C1515.94,452.46 1516.18,486.67 1516.40,520.00 C1516.62,553.33 1516.67,590.90 1517.00,620.00 C1517.26,642.54 1517.45,663.44 1518.00,680.00 C1518.39,691.72 1518.67,702.27 1519.50,710.00 C1520.03,714.92 1520.23,719.09 1521.50,722.00 C1522.36,723.97 1523.68,726.34 1524.90,726.40 C1526.17,726.46 1527.66,723.95 1529.00,722.00 C1530.99,719.12 1532.87,713.86 1534.80,710.20 C1536.53,706.92 1538.01,703.66 1540.00,701.00 C1541.79,698.60 1544.00,696.87 1546.00,694.80" stroke="#5e00d8" stroke-width="3.7" fill="none" stroke-linejoin="round" clip-path="url(#cc)"/>
<path d="M1146.50,664.60 C1164.33,665.00 1182.47,665.38 1200.00,665.80 C1216.95,666.21 1233.33,666.68 1250.00,667.10 C1266.67,667.52 1285.22,668.01 1300.00,668.30 C1311.76,668.53 1321.44,668.95 1331.70,668.80 C1341.40,668.65 1350.07,668.56 1360.00,667.50 C1371.20,666.30 1384.83,664.02 1395.50,661.50 C1404.50,659.37 1412.05,657.19 1420.00,654.00 C1428.05,650.77 1436.95,647.05 1443.50,642.20 C1449.36,637.87 1453.88,632.97 1458.00,627.00 C1462.54,620.43 1465.91,612.26 1469.00,604.00 C1472.35,595.03 1474.67,585.17 1477.00,575.00 C1479.53,563.93 1481.56,551.69 1483.40,540.00 C1485.23,528.36 1486.50,517.41 1488.00,505.00 C1489.70,490.95 1491.44,476.09 1493.00,460.00 C1494.80,441.45 1496.39,420.78 1498.00,400.00 C1499.74,377.57 1501.54,352.44 1503.00,330.00 C1504.35,309.23 1505.42,290.00 1506.50,270.00 C1507.58,250.00 1508.59,227.73 1509.50,210.00 C1510.22,195.89 1510.84,181.11 1511.50,172.00 C1511.87,166.87 1512.23,160.00 1512.60,160.00 C1512.90,160.00 1513.25,164.07 1513.50,168.00 C1514.18,178.91 1514.07,206.87 1514.30,230.00 C1514.59,259.37 1514.76,295.15 1515.00,330.00 C1515.26,368.18 1515.53,410.87 1515.80,450.00 C1516.06,487.46 1516.27,527.46 1516.60,560.00 C1516.86,585.96 1516.69,612.55 1517.50,630.00 C1517.98,640.44 1518.49,648.38 1519.50,655.00 C1520.18,659.44 1520.61,662.80 1522.00,666.00 C1523.25,668.87 1525.54,673.65 1527.10,673.50 C1528.93,673.32 1530.41,666.03 1532.00,662.00 C1533.72,657.63 1535.26,652.29 1537.00,648.20 C1538.45,644.78 1539.87,641.70 1541.50,639.00 C1542.91,636.66 1544.50,634.87 1546.00,632.80" stroke="#0096ff" stroke-width="3.7" fill="none" stroke-linejoin="round" stroke-dasharray="15 4.3 7 4.3" clip-path="url(#cc)"/>
<path d="M1146.50,687.00 C1164.33,686.73 1182.47,686.63 1200.00,686.20 C1216.95,685.79 1233.94,685.49 1250.00,684.50 C1264.99,683.57 1280.73,682.38 1293.40,680.60 C1303.39,679.20 1311.09,677.59 1320.00,675.50 C1329.18,673.35 1338.86,670.89 1347.70,667.80 C1356.17,664.84 1364.04,661.23 1372.00,657.50 C1379.97,653.77 1388.48,649.61 1395.50,645.40 C1401.62,641.73 1406.72,638.19 1412.00,634.00 C1417.40,629.71 1422.25,624.66 1427.50,619.90 C1432.91,615.00 1438.71,610.28 1444.00,605.00 C1449.39,599.62 1455.15,594.11 1459.50,587.90 C1463.80,581.77 1466.95,575.35 1470.00,568.00 C1473.48,559.61 1476.42,549.95 1478.70,540.00 C1481.21,529.07 1482.37,517.42 1484.00,505.00 C1485.84,490.96 1487.37,475.40 1489.00,460.00 C1490.71,443.78 1492.42,426.67 1494.00,410.00 C1495.58,393.34 1497.00,376.67 1498.50,360.00 C1500.00,343.33 1501.71,327.44 1503.00,310.00 C1504.41,290.92 1505.40,269.57 1506.50,250.00 C1507.56,231.27 1508.65,210.87 1509.50,195.00 C1510.15,182.90 1510.64,170.99 1511.20,163.00 C1511.54,158.20 1511.83,151.51 1512.20,151.50 C1512.48,151.49 1512.85,154.79 1513.10,158.00 C1513.79,167.04 1513.67,190.30 1513.90,210.00 C1514.20,235.91 1514.37,267.85 1514.60,300.00 C1514.87,337.13 1515.12,380.00 1515.40,420.00 C1515.68,460.00 1515.95,502.87 1516.30,540.00 C1516.60,572.15 1516.41,607.60 1517.30,630.00 C1517.83,643.37 1518.23,653.94 1519.50,662.00 C1520.29,667.01 1520.78,670.84 1522.50,674.00 C1523.91,676.60 1526.49,680.29 1528.20,680.10 C1530.02,679.90 1531.50,674.89 1533.00,672.00 C1534.62,668.88 1535.97,665.00 1537.50,662.00 C1538.81,659.42 1540.09,657.29 1541.50,655.00 C1542.92,652.69 1544.50,650.47 1546.00,648.20" stroke="#00cc7e" stroke-width="3.7" fill="none" stroke-linejoin="round" stroke-dasharray="3.9 3.8" clip-path="url(#cc)"/>
<path d="M1195.00,583.10L1195.00,731.40" stroke="#808080" stroke-width="1.7" fill="none"/>
<path d="M1195.00,747.70L1186.60,726.90L1195.00,731.40L1203.40,726.90Z" fill="#808080"/>
<path d="M1528.10,506.40L1442.60,506.40" stroke="#808080" stroke-width="1.7" fill="none"/>
<path d="M1426.30,506.40L1447.10,498.00L1442.60,506.40L1447.10,514.80Z" fill="#808080"/>
<rect x="1185.0" y="129.8" width="292.7" height="172.4" fill="#fff" stroke="#262626" stroke-width="1.3"/>
<path d="M1197.5,155.5H1318" stroke="#5e00d8" stroke-width="3.7"/>
<path d="M1197.5,196.0H1318" stroke="#0096ff" stroke-width="3.7" stroke-dasharray="16.5 3.6 6.6 3.6"/>
<path d="M1197.5,236.3H1318" stroke="#00cc7e" stroke-width="3.7" stroke-dasharray="3.9 3.8"/>
<path d="M1197.5,276.9H1318" stroke="#000000" stroke-width="3.7"/>
<path d="M1146.50,820.00v-7.5 M1146.50,99.80v7.5 M1220.48,820.00v-7.5 M1220.48,99.80v7.5 M1294.46,820.00v-7.5 M1294.46,99.80v7.5 M1368.44,820.00v-7.5 M1368.44,99.80v7.5 M1442.42,820.00v-7.5 M1442.42,99.80v7.5 M1146.50,820.00h7.5 M1546.00,820.00h-7.5 M1146.50,729.92h7.5 M1546.00,729.92h-7.5 M1146.50,639.84h7.5 M1546.00,639.84h-7.5 M1146.50,549.76h7.5 M1546.00,549.76h-7.5 M1146.50,459.68h7.5 M1546.00,459.68h-7.5 M1146.50,369.60h7.5 M1546.00,369.60h-7.5 M1146.50,279.52h7.5 M1546.00,279.52h-7.5 M1146.50,189.44h7.5 M1546.00,189.44h-7.5 M1146.50,99.36h7.5 M1546.00,99.36h-7.5" stroke="#2a2a2a" stroke-width="1.8" fill="none"/>
<rect x="1146.50" y="99.80" width="399.50" height="720.20" stroke="#2a2a2a" stroke-width="1.9" fill="none"/>
<path d="M1752.30,99.80V820.00 M1843.90,99.80V820.00 M1935.50,99.80V820.00 M2027.10,99.80V820.00 M1660.70,717.13H2061.20 M1660.70,614.26H2061.20 M1660.70,511.39H2061.20 M1660.70,408.52H2061.20 M1660.70,305.65H2061.20 M1660.70,202.78H2061.20" stroke="#dedede" stroke-width="1.2" fill="none"/>
<g clip-path="url(#cd)"><g clip-path="url(#cband)"><path d="M1661.91,179.69 L1662.91,184.39 L1663.91,188.78 L1664.91,192.91 L1665.91,196.79 L1666.91,200.44 L1667.91,203.89 L1668.91,207.14 L1669.91,210.23 L1670.91,213.15 L1671.91,215.93 L1672.91,218.57 L1673.91,221.10 L1674.91,223.51 L1675.91,225.83 L1676.91,228.04 L1677.91,230.18 L1678.91,232.23 L1679.91,234.21 L1680.91,236.13 L1681.91,237.98 L1682.91,239.78 L1683.91,241.53 L1684.91,243.23 L1685.91,244.88 L1686.91,246.50 L1687.91,248.08 L1688.91,249.62 L1689.91,251.13 L1690.91,252.61 L1691.91,254.06 L1692.91,255.49 L1693.91,256.90 L1694.91,258.28 L1695.91,259.64 L1696.91,260.98 L1697.91,262.31 L1698.91,263.61 L1699.91,264.90 L1700.91,266.18 L1701.91,267.44 L1702.91,268.69 L1703.91,269.92 L1704.91,271.15 L1705.91,272.36 L1706.91,273.56 L1707.91,274.75 L1708.91,275.93 L1709.91,277.10 L1710.91,278.27 L1711.91,279.42 L1712.91,280.56 L1713.91,281.70 L1714.91,282.83 L1715.91,283.95 L1716.91,285.07 L1717.91,286.17 L1718.91,287.27 L1719.91,288.37 L1720.91,289.45 L1721.91,290.53 L1722.91,291.61 L1723.91,292.68 L1724.91,293.74 L1725.91,294.79 L1726.91,295.84 L1727.91,296.89 L1728.91,297.93 L1729.91,298.96 L1730.91,299.99 L1731.91,301.01 L1732.91,302.03 L1733.91,303.04 L1734.91,304.05 L1735.91,305.05 L1736.91,306.05 L1737.91,307.04 L1738.91,308.02 L1739.91,309.01 L1740.91,309.98 L1741.91,310.95 L1742.91,311.92 L1743.91,312.88 L1744.91,313.84 L1745.91,314.79 L1746.91,315.74 L1747.91,316.69 L1748.91,317.63 L1749.91,318.56 L1750.91,319.49 L1751.91,320.42 L1752.91,321.34 L1753.91,322.25 L1754.91,323.17 L1755.91,324.07 L1756.91,324.98 L1757.91,325.88 L1758.91,326.77 L1759.91,327.66 L1760.91,328.55 L1761.91,329.43 L1762.91,330.31 L1763.91,331.18 L1764.91,332.05 L1765.91,332.92 L1766.91,333.78 L1767.91,334.63 L1768.91,335.49 L1769.91,336.34 L1770.91,337.18 L1771.91,338.02 L1772.91,338.86 L1773.91,339.69 L1774.91,340.52 L1775.91,341.35 L1776.91,342.17 L1777.91,342.98 L1778.91,343.80 L1779.91,344.61 L1780.91,345.41 L1781.91,346.21 L1782.91,347.01 L1783.91,347.81 L1784.91,348.60 L1785.91,349.38 L1786.91,350.17 L1787.91,350.95 L1788.91,351.72 L1789.91,352.49 L1790.91,353.26 L1791.91,354.03 L1792.91,354.79 L1793.91,355.54 L1794.91,356.30 L1795.91,357.05 L1796.91,357.79 L1797.91,358.54 L1798.91,359.28 L1799.91,360.01 L1800.91,360.74 L1801.91,361.47 L1802.91,362.20 L1803.91,362.92 L1804.91,363.64 L1805.91,364.35 L1806.91,365.07 L1807.91,365.77 L1808.91,366.48 L1809.91,367.18 L1810.91,367.88 L1811.91,368.57 L1812.91,369.27 L1813.91,369.95 L1814.91,370.64 L1815.91,371.32 L1816.91,372.00 L1817.91,372.68 L1818.91,373.35 L1819.91,374.02 L1820.91,374.68 L1821.91,375.35 L1822.91,376.01 L1823.91,376.66 L1824.91,377.32 L1825.91,377.97 L1826.91,378.61 L1827.91,379.26 L1828.91,379.90 L1829.91,380.54 L1830.91,381.17 L1831.91,381.80 L1832.91,382.43 L1833.91,383.06 L1834.91,383.68 L1835.91,384.30 L1836.91,384.92 L1837.91,385.53 L1838.91,386.14 L1839.91,386.75 L1840.91,387.36 L1841.91,387.96 L1842.91,388.56 L1843.91,389.16 L1844.91,389.75 L1845.91,390.34 L1846.91,390.93 L1847.91,391.52 L1848.91,392.10 L1849.91,392.68 L1850.91,393.26 L1851.91,393.83 L1852.91,394.40 L1853.91,394.97 L1854.91,395.54 L1855.91,396.10 L1856.91,396.66 L1857.91,397.22 L1858.91,397.78 L1859.91,398.33 L1860.91,398.88 L1861.91,399.43 L1862.91,399.97 L1863.91,400.52 L1864.91,401.06 L1865.91,401.59 L1866.91,402.13 L1867.91,402.66 L1868.91,403.19 L1869.91,403.72 L1870.91,404.24 L1871.91,404.77 L1872.91,405.29 L1873.91,405.80 L1874.91,406.32 L1875.91,406.83 L1876.91,407.34 L1877.91,407.85 L1878.91,408.36 L1879.91,408.86 L1880.91,409.36 L1881.91,409.86 L1882.91,410.35 L1883.91,410.85 L1884.91,411.34 L1885.91,411.83 L1886.91,412.31 L1887.91,412.80 L1888.91,413.28 L1889.91,413.76 L1890.91,414.24 L1891.91,414.71 L1892.91,415.18 L1893.91,415.65 L1894.91,416.12 L1895.91,416.59 L1896.91,417.05 L1897.91,417.51 L1898.91,417.97 L1899.91,418.43 L1900.91,418.89 L1901.91,419.34 L1902.91,419.79 L1903.91,420.24 L1904.91,420.68 L1905.91,421.13 L1906.91,421.57 L1907.91,422.01 L1908.91,422.45 L1909.91,422.89 L1910.91,423.32 L1911.91,423.75 L1912.91,424.18 L1913.91,424.61 L1914.91,425.03 L1915.91,425.46 L1916.91,425.88 L1917.91,426.30 L1918.91,426.72 L1919.91,427.13 L1920.91,427.55 L1921.91,427.96 L1922.91,428.37 L1923.91,428.78 L1924.91,429.18 L1925.91,429.59 L1926.91,429.99 L1927.91,430.39 L1928.91,430.79 L1929.91,431.18 L1930.91,431.58 L1931.91,431.97 L1932.91,432.36 L1933.91,432.75 L1934.91,433.14 L1935.91,433.52 L1936.91,433.91 L1937.91,434.29 L1938.91,434.67 L1939.91,435.05 L1940.91,435.42 L1941.91,435.80 L1942.91,436.17 L1943.91,436.54 L1944.91,436.91 L1945.91,437.28 L1946.91,437.64 L1947.91,438.01 L1948.91,438.37 L1949.91,438.73 L1950.91,439.09 L1951.91,439.45 L1952.91,439.80 L1953.91,440.15 L1954.91,440.51 L1955.91,440.86 L1956.91,441.21 L1957.91,441.55 L1958.91,441.90 L1959.91,442.24 L1960.91,442.58 L1961.91,442.92 L1962.91,443.26 L1963.91,443.60 L1964.91,443.94 L1965.91,444.27 L1966.91,444.60 L1967.91,444.93 L1968.91,445.26 L1969.91,445.59 L1970.91,445.92 L1971.91,446.24 L1972.91,446.56 L1973.91,446.89 L1974.91,447.21 L1975.91,447.52 L1976.91,447.84 L1977.91,448.16 L1978.91,448.47 L1979.91,448.78 L1980.91,449.09 L1981.91,449.40 L1982.91,449.71 L1983.91,450.02 L1984.91,450.32 L1985.91,450.63 L1986.91,450.93 L1987.91,451.23 L1988.91,451.53 L1989.91,451.83 L1990.91,452.12 L1991.91,452.42 L1992.91,452.71 L1993.91,453.01 L1994.91,453.30 L1995.91,453.59 L1996.91,453.88 L1997.91,454.16 L1998.91,454.45 L1999.91,454.73 L2000.91,455.01 L2001.91,455.30 L2002.91,455.58 L2003.91,455.85 L2004.91,456.13 L2005.91,456.41 L2006.91,456.68 L2007.91,456.96 L2008.91,457.23 L2009.91,457.50 L2010.91,457.77 L2011.91,458.04 L2012.91,458.31 L2013.91,458.57 L2014.91,458.84 L2015.91,459.10 L2016.91,459.36 L2017.91,459.62 L2018.91,459.88 L2019.91,460.14 L2020.91,460.40 L2021.91,460.65 L2022.91,460.91 L2023.91,461.16 L2024.91,461.41 L2025.91,461.66 L2026.91,461.91 L2027.91,462.16 L2028.91,462.41 L2029.91,462.66 L2030.91,462.90 L2031.91,463.15 L2032.91,463.39 L2033.91,463.63 L2034.91,463.87 L2035.91,464.11 L2036.91,464.35 L2037.91,464.59 L2038.91,464.82 L2039.91,465.06 L2040.91,465.29 L2041.91,465.52 L2042.91,465.75 L2043.91,465.99 L2044.91,466.21 L2045.91,466.44 L2046.91,466.67 L2047.91,466.90 L2048.91,467.12 L2049.91,467.35 L2050.91,467.57 L2051.91,467.79 L2052.91,468.01 L2053.91,468.23 L2054.91,468.45 L2055.91,468.67 L2056.91,468.88 L2057.91,469.10 L2058.91,469.31 L2059.91,469.53 L2060.91,469.74 L2061.91,469.95 L2061.91,531.71 L2060.91,531.50 L2059.91,531.29 L2058.91,531.09 L2057.91,530.88 L2056.91,530.67 L2055.91,530.45 L2054.91,530.24 L2053.91,530.03 L2052.91,529.81 L2051.91,529.60 L2050.91,529.38 L2049.91,529.16 L2048.91,528.95 L2047.91,528.73 L2046.91,528.50 L2045.91,528.28 L2044.91,528.06 L2043.91,527.84 L2042.91,527.61 L2041.91,527.38 L2040.91,527.16 L2039.91,526.93 L2038.91,526.70 L2037.91,526.47 L2036.91,526.24 L2035.91,526.00 L2034.91,525.77 L2033.91,525.53 L2032.91,525.30 L2031.91,525.06 L2030.91,524.82 L2029.91,524.58 L2028.91,524.34 L2027.91,524.10 L2026.91,523.85 L2025.91,523.61 L2024.91,523.36 L2023.91,523.11 L2022.91,522.87 L2021.91,522.62 L2020.91,522.37 L2019.91,522.11 L2018.91,521.86 L2017.91,521.61 L2016.91,521.35 L2015.91,521.09 L2014.91,520.83 L2013.91,520.58 L2012.91,520.31 L2011.91,520.05 L2010.91,519.79 L2009.91,519.52 L2008.91,519.26 L2007.91,518.99 L2006.91,518.72 L2005.91,518.45 L2004.91,518.18 L2003.91,517.91 L2002.91,517.64 L2001.91,517.36 L2000.91,517.08 L1999.91,516.81 L1998.91,516.53 L1997.91,516.25 L1996.91,515.96 L1995.91,515.68 L1994.91,515.40 L1993.91,515.11 L1992.91,514.82 L1991.91,514.53 L1990.91,514.24 L1989.91,513.95 L1988.91,513.66 L1987.91,513.36 L1986.91,513.07 L1985.91,512.77 L1984.91,512.47 L1983.91,512.17 L1982.91,511.87 L1981.91,511.56 L1980.91,511.26 L1979.91,510.95 L1978.91,510.65 L1977.91,510.34 L1976.91,510.02 L1975.91,509.71 L1974.91,509.40 L1973.91,509.08 L1972.91,508.77 L1971.91,508.45 L1970.91,508.13 L1969.91,507.81 L1968.91,507.48 L1967.91,507.16 L1966.91,506.83 L1965.91,506.50 L1964.91,506.17 L1963.91,505.84 L1962.91,505.51 L1961.91,505.17 L1960.91,504.84 L1959.91,504.50 L1958.91,504.16 L1957.91,503.82 L1956.91,503.48 L1955.91,503.13 L1954.91,502.79 L1953.91,502.44 L1952.91,502.09 L1951.91,501.74 L1950.91,501.38 L1949.91,501.03 L1948.91,500.67 L1947.91,500.32 L1946.91,499.96 L1945.91,499.59 L1944.91,499.23 L1943.91,498.86 L1942.91,498.50 L1941.91,498.13 L1940.91,497.76 L1939.91,497.39 L1938.91,497.01 L1937.91,496.64 L1936.91,496.26 L1935.91,495.88 L1934.91,495.50 L1933.91,495.11 L1932.91,494.73 L1931.91,494.34 L1930.91,493.95 L1929.91,493.56 L1928.91,493.17 L1927.91,492.77 L1926.91,492.37 L1925.91,491.98 L1924.91,491.57 L1923.91,491.17 L1922.91,490.77 L1921.91,490.36 L1920.91,489.95 L1919.91,489.54 L1918.91,489.13 L1917.91,488.71 L1916.91,488.30 L1915.91,487.88 L1914.91,487.46 L1913.91,487.03 L1912.91,486.61 L1911.91,486.18 L1910.91,485.75 L1909.91,485.32 L1908.91,484.89 L1907.91,484.45 L1906.91,484.02 L1905.91,483.58 L1904.91,483.13 L1903.91,482.69 L1902.91,482.24 L1901.91,481.80 L1900.91,481.34 L1899.91,480.89 L1898.91,480.44 L1897.91,479.98 L1896.91,479.52 L1895.91,479.06 L1894.91,478.59 L1893.91,478.13 L1892.91,477.66 L1891.91,477.19 L1890.91,476.72 L1889.91,476.24 L1888.91,475.76 L1887.91,475.28 L1886.91,474.80 L1885.91,474.32 L1884.91,473.83 L1883.91,473.34 L1882.91,472.85 L1881.91,472.35 L1880.91,471.86 L1879.91,471.36 L1878.91,470.85 L1877.91,470.35 L1876.91,469.84 L1875.91,469.33 L1874.91,468.82 L1873.91,468.31 L1872.91,467.79 L1871.91,467.27 L1870.91,466.75 L1869.91,466.23 L1868.91,465.70 L1867.91,465.17 L1866.91,464.64 L1865.91,464.10 L1864.91,463.57 L1863.91,463.03 L1862.91,462.48 L1861.91,461.94 L1860.91,461.39 L1859.91,460.84 L1858.91,460.29 L1857.91,459.73 L1856.91,459.17 L1855.91,458.61 L1854.91,458.05 L1853.91,457.48 L1852.91,456.91 L1851.91,456.34 L1850.91,455.76 L1849.91,455.19 L1848.91,454.61 L1847.91,454.02 L1846.91,453.44 L1845.91,452.85 L1844.91,452.25 L1843.91,451.66 L1842.91,451.06 L1841.91,450.46 L1840.91,449.86 L1839.91,449.25 L1838.91,448.64 L1837.91,448.03 L1836.91,447.41 L1835.91,446.79 L1834.91,446.17 L1833.91,445.54 L1832.91,444.92 L1831.91,444.28 L1830.91,443.65 L1829.91,443.01 L1828.91,442.37 L1827.91,441.73 L1826.91,441.08 L1825.91,440.43 L1824.91,439.78 L1823.91,439.12 L1822.91,438.46 L1821.91,437.80 L1820.91,437.14 L1819.91,436.47 L1818.91,435.79 L1817.91,435.12 L1816.91,434.44 L1815.91,433.76 L1814.91,433.07 L1813.91,432.38 L1812.91,431.69 L1811.91,430.99 L1810.91,430.29 L1809.91,429.59 L1808.91,428.89 L1807.91,428.18 L1806.91,427.46 L1805.91,426.75 L1804.91,426.03 L1803.91,425.30 L1802.91,424.57 L1801.91,423.84 L1800.91,423.11 L1799.91,422.37 L1798.91,421.63 L1797.91,420.89 L1796.91,420.14 L1795.91,419.38 L1794.91,418.63 L1793.91,417.87 L1792.91,417.10 L1791.91,416.34 L1790.91,415.57 L1789.91,414.79 L1788.91,414.01 L1787.91,413.23 L1786.91,412.44 L1785.91,411.65 L1784.91,410.86 L1783.91,410.06 L1782.91,409.26 L1781.91,408.45 L1780.91,407.64 L1779.91,406.83 L1778.91,406.01 L1777.91,405.19 L1776.91,404.36 L1775.91,403.53 L1774.91,402.70 L1773.91,401.86 L1772.91,401.02 L1771.91,400.17 L1770.91,399.32 L1769.91,398.46 L1768.91,397.60 L1767.91,396.74 L1766.91,395.87 L1765.91,395.00 L1764.91,394.12 L1763.91,393.24 L1762.91,392.36 L1761.91,391.47 L1760.91,390.57 L1759.91,389.67 L1758.91,388.77 L1757.91,387.86 L1756.91,386.95 L1755.91,386.03 L1754.91,385.11 L1753.91,384.19 L1752.91,383.25 L1751.91,382.32 L1750.91,381.38 L1749.91,380.43 L1748.91,379.48 L1747.91,378.53 L1746.91,377.56 L1745.91,376.60 L1744.91,375.63 L1743.91,374.65 L1742.91,373.67 L1741.91,372.69 L1740.91,371.69 L1739.91,370.70 L1738.91,369.69 L1737.91,368.69 L1736.91,367.67 L1735.91,366.65 L1734.91,365.63 L1733.91,364.60 L1732.91,363.56 L1731.91,362.52 L1730.91,361.47 L1729.91,360.42 L1728.91,359.36 L1727.91,358.29 L1726.91,357.22 L1725.91,356.14 L1724.91,355.05 L1723.91,353.96 L1722.91,352.86 L1721.91,351.75 L1720.91,350.63 L1719.91,349.51 L1718.91,348.38 L1717.91,347.24 L1716.91,346.09 L1715.91,344.94 L1714.91,343.78 L1713.91,342.60 L1712.91,341.42 L1711.91,340.23 L1710.91,339.03 L1709.91,337.82 L1708.91,336.60 L1707.91,335.36 L1706.91,334.12 L1705.91,332.87 L1704.91,331.60 L1703.91,330.32 L1702.91,329.03 L1701.91,327.72 L1700.91,326.40 L1699.91,325.06 L1698.91,323.71 L1697.91,322.34 L1696.91,320.96 L1695.91,319.55 L1694.91,318.13 L1693.91,316.69 L1692.91,315.23 L1691.91,313.74 L1690.91,312.23 L1689.91,310.70 L1688.91,309.14 L1687.91,307.55 L1686.91,305.93 L1685.91,304.29 L1684.91,302.61 L1683.91,300.89 L1682.91,299.14 L1681.91,297.35 L1680.91,295.52 L1679.91,293.64 L1678.91,291.72 L1677.91,289.75 L1676.91,287.72 L1675.91,285.64 L1674.91,283.50 L1673.91,281.29 L1672.91,279.02 L1671.91,276.67 L1670.91,274.25 L1669.91,271.74 L1668.91,269.14 L1667.91,266.45 L1666.91,263.66 L1665.91,260.76 L1664.91,257.74 L1663.91,254.60 L1662.91,251.33 L1661.91,247.92Z" fill="#fcd993"/><path d="M1661.91,179.69 L1662.91,184.39 L1663.91,188.78 L1664.91,192.91 L1665.91,196.79 L1666.91,200.44 L1667.91,203.89 L1668.91,207.14 L1669.91,210.23 L1670.91,213.15 L1671.91,215.93 L1672.91,218.57 L1673.91,221.10 L1674.91,223.51 L1675.91,225.83 L1676.91,228.04 L1677.91,230.18 L1678.91,232.23 L1679.91,234.21 L1680.91,236.13 L1681.91,237.98 L1682.91,239.78 L1683.91,241.53 L1684.91,243.23 L1685.91,244.88 L1686.91,246.50 L1687.91,248.08 L1688.91,249.62 L1689.91,251.13 L1690.91,252.61 L1691.91,254.06 L1692.91,255.49 L1693.91,256.90 L1694.91,258.28 L1695.91,259.64 L1696.91,260.98 L1697.91,262.31 L1698.91,263.61 L1699.91,264.90 L1700.91,266.18 L1701.91,267.44 L1702.91,268.69 L1703.91,269.92 L1704.91,271.15 L1705.91,272.36 L1706.91,273.56 L1707.91,274.75 L1708.91,275.93 L1709.91,277.10 L1710.91,278.27 L1711.91,279.42 L1712.91,280.56 L1713.91,281.70 L1714.91,282.83 L1715.91,283.95 L1716.91,285.07 L1717.91,286.17 L1718.91,287.27 L1719.91,288.37 L1720.91,289.45 L1721.91,290.53 L1722.91,291.61 L1723.91,292.68 L1724.91,293.74 L1725.91,294.79 L1726.91,295.84 L1727.91,296.89 L1728.91,297.93 L1729.91,298.96 L1730.91,299.99 L1731.91,301.01 L1732.91,302.03 L1733.91,303.04 L1734.91,304.05 L1735.91,305.05 L1736.91,306.05 L1737.91,307.04 L1738.91,308.02 L1739.91,309.01 L1740.91,309.98 L1741.91,310.95 L1742.91,311.92 L1743.91,312.88 L1744.91,313.84 L1745.91,314.79 L1746.91,315.74 L1747.91,316.69 L1748.91,317.63 L1749.91,318.56 L1750.91,319.49 L1751.91,320.42 L1752.91,321.34 L1753.91,322.25 L1754.91,323.17 L1755.91,324.07 L1756.91,324.98 L1757.91,325.88 L1758.91,326.77 L1759.91,327.66 L1760.91,328.55 L1761.91,329.43 L1762.91,330.31 L1763.91,331.18 L1764.91,332.05 L1765.91,332.92 L1766.91,333.78 L1767.91,334.63 L1768.91,335.49 L1769.91,336.34 L1770.91,337.18 L1771.91,338.02 L1772.91,338.86 L1773.91,339.69 L1774.91,340.52 L1775.91,341.35 L1776.91,342.17 L1777.91,342.98 L1778.91,343.80 L1779.91,344.61 L1780.91,345.41 L1781.91,346.21 L1782.91,347.01 L1783.91,347.81 L1784.91,348.60 L1785.91,349.38 L1786.91,350.17 L1787.91,350.95 L1788.91,351.72 L1789.91,352.49 L1790.91,353.26 L1791.91,354.03 L1792.91,354.79 L1793.91,355.54 L1794.91,356.30 L1795.91,357.05 L1796.91,357.79 L1797.91,358.54 L1798.91,359.28 L1799.91,360.01 L1800.91,360.74 L1801.91,361.47 L1802.91,362.20 L1803.91,362.92 L1804.91,363.64 L1805.91,364.35 L1806.91,365.07 L1807.91,365.77 L1808.91,366.48 L1809.91,367.18 L1810.91,367.88 L1811.91,368.57 L1812.91,369.27 L1813.91,369.95 L1814.91,370.64 L1815.91,371.32 L1816.91,372.00 L1817.91,372.68 L1818.91,373.35 L1819.91,374.02 L1820.91,374.68 L1821.91,375.35 L1822.91,376.01 L1823.91,376.66 L1824.91,377.32 L1825.91,377.97 L1826.91,378.61 L1827.91,379.26 L1828.91,379.90 L1829.91,380.54 L1830.91,381.17 L1831.91,381.80 L1832.91,382.43 L1833.91,383.06 L1834.91,383.68 L1835.91,384.30 L1836.91,384.92 L1837.91,385.53 L1838.91,386.14 L1839.91,386.75 L1840.91,387.36 L1841.91,387.96 L1842.91,388.56 L1843.91,389.16 L1844.91,389.75 L1845.91,390.34 L1846.91,390.93 L1847.91,391.52 L1848.91,392.10 L1849.91,392.68 L1850.91,393.26 L1851.91,393.83 L1852.91,394.40 L1853.91,394.97 L1854.91,395.54 L1855.91,396.10 L1856.91,396.66 L1857.91,397.22 L1858.91,397.78 L1859.91,398.33 L1860.91,398.88 L1861.91,399.43 L1862.91,399.97 L1863.91,400.52 L1864.91,401.06 L1865.91,401.59 L1866.91,402.13 L1867.91,402.66 L1868.91,403.19 L1869.91,403.72 L1870.91,404.24 L1871.91,404.77 L1872.91,405.29 L1873.91,405.80 L1874.91,406.32 L1875.91,406.83 L1876.91,407.34 L1877.91,407.85 L1878.91,408.36 L1879.91,408.86 L1880.91,409.36 L1881.91,409.86 L1882.91,410.35 L1883.91,410.85 L1884.91,411.34 L1885.91,411.83 L1886.91,412.31 L1887.91,412.80 L1888.91,413.28 L1889.91,413.76 L1890.91,414.24 L1891.91,414.71 L1892.91,415.18 L1893.91,415.65 L1894.91,416.12 L1895.91,416.59 L1896.91,417.05 L1897.91,417.51 L1898.91,417.97 L1899.91,418.43 L1900.91,418.89 L1901.91,419.34 L1902.91,419.79 L1903.91,420.24 L1904.91,420.68 L1905.91,421.13 L1906.91,421.57 L1907.91,422.01 L1908.91,422.45 L1909.91,422.89 L1910.91,423.32 L1911.91,423.75 L1912.91,424.18 L1913.91,424.61 L1914.91,425.03 L1915.91,425.46 L1916.91,425.88 L1917.91,426.30 L1918.91,426.72 L1919.91,427.13 L1920.91,427.55 L1921.91,427.96 L1922.91,428.37 L1923.91,428.78 L1924.91,429.18 L1925.91,429.59 L1926.91,429.99 L1927.91,430.39 L1928.91,430.79 L1929.91,431.18 L1930.91,431.58 L1931.91,431.97 L1932.91,432.36 L1933.91,432.75 L1934.91,433.14 L1935.91,433.52 L1936.91,433.91 L1937.91,434.29 L1938.91,434.67 L1939.91,435.05 L1940.91,435.42 L1941.91,435.80 L1942.91,436.17 L1943.91,436.54 L1944.91,436.91 L1945.91,437.28 L1946.91,437.64 L1947.91,438.01 L1948.91,438.37 L1949.91,438.73 L1950.91,439.09 L1951.91,439.45 L1952.91,439.80 L1953.91,440.15 L1954.91,440.51 L1955.91,440.86 L1956.91,441.21 L1957.91,441.55 L1958.91,441.90 L1959.91,442.24 L1960.91,442.58 L1961.91,442.92 L1962.91,443.26 L1963.91,443.60 L1964.91,443.94 L1965.91,444.27 L1966.91,444.60 L1967.91,444.93 L1968.91,445.26 L1969.91,445.59 L1970.91,445.92 L1971.91,446.24 L1972.91,446.56 L1973.91,446.89 L1974.91,447.21 L1975.91,447.52 L1976.91,447.84 L1977.91,448.16 L1978.91,448.47 L1979.91,448.78 L1980.91,449.09 L1981.91,449.40 L1982.91,449.71 L1983.91,450.02 L1984.91,450.32 L1985.91,450.63 L1986.91,450.93 L1987.91,451.23 L1988.91,451.53 L1989.91,451.83 L1990.91,452.12 L1991.91,452.42 L1992.91,452.71 L1993.91,453.01 L1994.91,453.30 L1995.91,453.59 L1996.91,453.88 L1997.91,454.16 L1998.91,454.45 L1999.91,454.73 L2000.91,455.01 L2001.91,455.30 L2002.91,455.58 L2003.91,455.85 L2004.91,456.13 L2005.91,456.41 L2006.91,456.68 L2007.91,456.96 L2008.91,457.23 L2009.91,457.50 L2010.91,457.77 L2011.91,458.04 L2012.91,458.31 L2013.91,458.57 L2014.91,458.84 L2015.91,459.10 L2016.91,459.36 L2017.91,459.62 L2018.91,459.88 L2019.91,460.14 L2020.91,460.40 L2021.91,460.65 L2022.91,460.91 L2023.91,461.16 L2024.91,461.41 L2025.91,461.66 L2026.91,461.91 L2027.91,462.16 L2028.91,462.41 L2029.91,462.66 L2030.91,462.90 L2031.91,463.15 L2032.91,463.39 L2033.91,463.63 L2034.91,463.87 L2035.91,464.11 L2036.91,464.35 L2037.91,464.59 L2038.91,464.82 L2039.91,465.06 L2040.91,465.29 L2041.91,465.52 L2042.91,465.75 L2043.91,465.99 L2044.91,466.21 L2045.91,466.44 L2046.91,466.67 L2047.91,466.90 L2048.91,467.12 L2049.91,467.35 L2050.91,467.57 L2051.91,467.79 L2052.91,468.01 L2053.91,468.23 L2054.91,468.45 L2055.91,468.67 L2056.91,468.88 L2057.91,469.10 L2058.91,469.31 L2059.91,469.53 L2060.91,469.74 L2061.91,469.95" stroke="#fde9c6" stroke-width="9" fill="none" filter="url(#bl2)"/><path d="M1661.91,247.92 L1662.91,251.33 L1663.91,254.60 L1664.91,257.74 L1665.91,260.76 L1666.91,263.66 L1667.91,266.45 L1668.91,269.14 L1669.91,271.74 L1670.91,274.25 L1671.91,276.67 L1672.91,279.02 L1673.91,281.29 L1674.91,283.50 L1675.91,285.64 L1676.91,287.72 L1677.91,289.75 L1678.91,291.72 L1679.91,293.64 L1680.91,295.52 L1681.91,297.35 L1682.91,299.14 L1683.91,300.89 L1684.91,302.61 L1685.91,304.29 L1686.91,305.93 L1687.91,307.55 L1688.91,309.14 L1689.91,310.70 L1690.91,312.23 L1691.91,313.74 L1692.91,315.23 L1693.91,316.69 L1694.91,318.13 L1695.91,319.55 L1696.91,320.96 L1697.91,322.34 L1698.91,323.71 L1699.91,325.06 L1700.91,326.40 L1701.91,327.72 L1702.91,329.03 L1703.91,330.32 L1704.91,331.60 L1705.91,332.87 L1706.91,334.12 L1707.91,335.36 L1708.91,336.60 L1709.91,337.82 L1710.91,339.03 L1711.91,340.23 L1712.91,341.42 L1713.91,342.60 L1714.91,343.78 L1715.91,344.94 L1716.91,346.09 L1717.91,347.24 L1718.91,348.38 L1719.91,349.51 L1720.91,350.63 L1721.91,351.75 L1722.91,352.86 L1723.91,353.96 L1724.91,355.05 L1725.91,356.14 L1726.91,357.22 L1727.91,358.29 L1728.91,359.36 L1729.91,360.42 L1730.91,361.47 L1731.91,362.52 L1732.91,363.56 L1733.91,364.60 L1734.91,365.63 L1735.91,366.65 L1736.91,367.67 L1737.91,368.69 L1738.91,369.69 L1739.91,370.70 L1740.91,371.69 L1741.91,372.69 L1742.91,373.67 L1743.91,374.65 L1744.91,375.63 L1745.91,376.60 L1746.91,377.56 L1747.91,378.53 L1748.91,379.48 L1749.91,380.43 L1750.91,381.38 L1751.91,382.32 L1752.91,383.25 L1753.91,384.19 L1754.91,385.11 L1755.91,386.03 L1756.91,386.95 L1757.91,387.86 L1758.91,388.77 L1759.91,389.67 L1760.91,390.57 L1761.91,391.47 L1762.91,392.36 L1763.91,393.24 L1764.91,394.12 L1765.91,395.00 L1766.91,395.87 L1767.91,396.74 L1768.91,397.60 L1769.91,398.46 L1770.91,399.32 L1771.91,400.17 L1772.91,401.02 L1773.91,401.86 L1774.91,402.70 L1775.91,403.53 L1776.91,404.36 L1777.91,405.19 L1778.91,406.01 L1779.91,406.83 L1780.91,407.64 L1781.91,408.45 L1782.91,409.26 L1783.91,410.06 L1784.91,410.86 L1785.91,411.65 L1786.91,412.44 L1787.91,413.23 L1788.91,414.01 L1789.91,414.79 L1790.91,415.57 L1791.91,416.34 L1792.91,417.10 L1793.91,417.87 L1794.91,418.63 L1795.91,419.38 L1796.91,420.14 L1797.91,420.89 L1798.91,421.63 L1799.91,422.37 L1800.91,423.11 L1801.91,423.84 L1802.91,424.57 L1803.91,425.30 L1804.91,426.03 L1805.91,426.75 L1806.91,427.46 L1807.91,428.18 L1808.91,428.89 L1809.91,429.59 L1810.91,430.29 L1811.91,430.99 L1812.91,431.69 L1813.91,432.38 L1814.91,433.07 L1815.91,433.76 L1816.91,434.44 L1817.91,435.12 L1818.91,435.79 L1819.91,436.47 L1820.91,437.14 L1821.91,437.80 L1822.91,438.46 L1823.91,439.12 L1824.91,439.78 L1825.91,440.43 L1826.91,441.08 L1827.91,441.73 L1828.91,442.37 L1829.91,443.01 L1830.91,443.65 L1831.91,444.28 L1832.91,444.92 L1833.91,445.54 L1834.91,446.17 L1835.91,446.79 L1836.91,447.41 L1837.91,448.03 L1838.91,448.64 L1839.91,449.25 L1840.91,449.86 L1841.91,450.46 L1842.91,451.06 L1843.91,451.66 L1844.91,452.25 L1845.91,452.85 L1846.91,453.44 L1847.91,454.02 L1848.91,454.61 L1849.91,455.19 L1850.91,455.76 L1851.91,456.34 L1852.91,456.91 L1853.91,457.48 L1854.91,458.05 L1855.91,458.61 L1856.91,459.17 L1857.91,459.73 L1858.91,460.29 L1859.91,460.84 L1860.91,461.39 L1861.91,461.94 L1862.91,462.48 L1863.91,463.03 L1864.91,463.57 L1865.91,464.10 L1866.91,464.64 L1867.91,465.17 L1868.91,465.70 L1869.91,466.23 L1870.91,466.75 L1871.91,467.27 L1872.91,467.79 L1873.91,468.31 L1874.91,468.82 L1875.91,469.33 L1876.91,469.84 L1877.91,470.35 L1878.91,470.85 L1879.91,471.36 L1880.91,471.86 L1881.91,472.35 L1882.91,472.85 L1883.91,473.34 L1884.91,473.83 L1885.91,474.32 L1886.91,474.80 L1887.91,475.28 L1888.91,475.76 L1889.91,476.24 L1890.91,476.72 L1891.91,477.19 L1892.91,477.66 L1893.91,478.13 L1894.91,478.59 L1895.91,479.06 L1896.91,479.52 L1897.91,479.98 L1898.91,480.44 L1899.91,480.89 L1900.91,481.34 L1901.91,481.80 L1902.91,482.24 L1903.91,482.69 L1904.91,483.13 L1905.91,483.58 L1906.91,484.02 L1907.91,484.45 L1908.91,484.89 L1909.91,485.32 L1910.91,485.75 L1911.91,486.18 L1912.91,486.61 L1913.91,487.03 L1914.91,487.46 L1915.91,487.88 L1916.91,488.30 L1917.91,488.71 L1918.91,489.13 L1919.91,489.54 L1920.91,489.95 L1921.91,490.36 L1922.91,490.77 L1923.91,491.17 L1924.91,491.57 L1925.91,491.98 L1926.91,492.37 L1927.91,492.77 L1928.91,493.17 L1929.91,493.56 L1930.91,493.95 L1931.91,494.34 L1932.91,494.73 L1933.91,495.11 L1934.91,495.50 L1935.91,495.88 L1936.91,496.26 L1937.91,496.64 L1938.91,497.01 L1939.91,497.39 L1940.91,497.76 L1941.91,498.13 L1942.91,498.50 L1943.91,498.86 L1944.91,499.23 L1945.91,499.59 L1946.91,499.96 L1947.91,500.32 L1948.91,500.67 L1949.91,501.03 L1950.91,501.38 L1951.91,501.74 L1952.91,502.09 L1953.91,502.44 L1954.91,502.79 L1955.91,503.13 L1956.91,503.48 L1957.91,503.82 L1958.91,504.16 L1959.91,504.50 L1960.91,504.84 L1961.91,505.17 L1962.91,505.51 L1963.91,505.84 L1964.91,506.17 L1965.91,506.50 L1966.91,506.83 L1967.91,507.16 L1968.91,507.48 L1969.91,507.81 L1970.91,508.13 L1971.91,508.45 L1972.91,508.77 L1973.91,509.08 L1974.91,509.40 L1975.91,509.71 L1976.91,510.02 L1977.91,510.34 L1978.91,510.65 L1979.91,510.95 L1980.91,511.26 L1981.91,511.56 L1982.91,511.87 L1983.91,512.17 L1984.91,512.47 L1985.91,512.77 L1986.91,513.07 L1987.91,513.36 L1988.91,513.66 L1989.91,513.95 L1990.91,514.24 L1991.91,514.53 L1992.91,514.82 L1993.91,515.11 L1994.91,515.40 L1995.91,515.68 L1996.91,515.96 L1997.91,516.25 L1998.91,516.53 L1999.91,516.81 L2000.91,517.08 L2001.91,517.36 L2002.91,517.64 L2003.91,517.91 L2004.91,518.18 L2005.91,518.45 L2006.91,518.72 L2007.91,518.99 L2008.91,519.26 L2009.91,519.52 L2010.91,519.79 L2011.91,520.05 L2012.91,520.31 L2013.91,520.58 L2014.91,520.83 L2015.91,521.09 L2016.91,521.35 L2017.91,521.61 L2018.91,521.86 L2019.91,522.11 L2020.91,522.37 L2021.91,522.62 L2022.91,522.87 L2023.91,523.11 L2024.91,523.36 L2025.91,523.61 L2026.91,523.85 L2027.91,524.10 L2028.91,524.34 L2029.91,524.58 L2030.91,524.82 L2031.91,525.06 L2032.91,525.30 L2033.91,525.53 L2034.91,525.77 L2035.91,526.00 L2036.91,526.24 L2037.91,526.47 L2038.91,526.70 L2039.91,526.93 L2040.91,527.16 L2041.91,527.38 L2042.91,527.61 L2043.91,527.84 L2044.91,528.06 L2045.91,528.28 L2046.91,528.50 L2047.91,528.73 L2048.91,528.95 L2049.91,529.16 L2050.91,529.38 L2051.91,529.60 L2052.91,529.81 L2053.91,530.03 L2054.91,530.24 L2055.91,530.45 L2056.91,530.67 L2057.91,530.88 L2058.91,531.09 L2059.91,531.29 L2060.91,531.50 L2061.91,531.71" stroke="#fce4b8" stroke-width="6" fill="none" filter="url(#bl2)"/></g></g>
<path d="M1660.7,243.59L1661.91,247.92L1661.91,179.69L1660.7,185.69Z" fill="#fcd993"/>
<path d="M1752.30,99.8V820.0 M1843.90,99.8V820.0 M1935.50,99.8V820.0 M2027.10,99.8V820.0 M1660.7,717.13H2061.2 M1660.7,614.26H2061.2 M1660.7,511.39H2061.2 M1660.7,408.52H2061.2 M1660.7,305.65H2061.2 M1660.7,202.78H2061.2" stroke="#000" stroke-opacity="0.06" stroke-width="1.2" fill="none"/>
<path d="M1661.91,179.69 L1662.91,184.39 L1663.91,188.78 L1664.91,192.91 L1665.91,196.79 L1666.91,200.44 L1667.91,203.89 L1668.91,207.14 L1669.91,210.23 L1670.91,213.15 L1671.91,215.93 L1672.91,218.57 L1673.91,221.10 L1674.91,223.51 L1675.91,225.83 L1676.91,228.04 L1677.91,230.18 L1678.91,232.23 L1679.91,234.21 L1680.91,236.13 L1681.91,237.98 L1682.91,239.78 L1683.91,241.53 L1684.91,243.23 L1685.91,244.88 L1686.91,246.50 L1687.91,248.08 L1688.91,249.62 L1689.91,251.13 L1690.91,252.61 L1691.91,254.06 L1692.91,255.49 L1693.91,256.90 L1694.91,258.28 L1695.91,259.64 L1696.91,260.98 L1697.91,262.31 L1698.91,263.61 L1699.91,264.90 L1700.91,266.18 L1701.91,267.44 L1702.91,268.69 L1703.91,269.92 L1704.91,271.15 L1705.91,272.36 L1706.91,273.56 L1707.91,274.75 L1708.91,275.93 L1709.91,277.10 L1710.91,278.27 L1711.91,279.42 L1712.91,280.56 L1713.91,281.70 L1714.91,282.83 L1715.91,283.95 L1716.91,285.07 L1717.91,286.17 L1718.91,287.27 L1719.91,288.37 L1720.91,289.45 L1721.91,290.53 L1722.91,291.61 L1723.91,292.68 L1724.91,293.74 L1725.91,294.79 L1726.91,295.84 L1727.91,296.89 L1728.91,297.93 L1729.91,298.96 L1730.91,299.99 L1731.91,301.01 L1732.91,302.03 L1733.91,303.04 L1734.91,304.05 L1735.91,305.05 L1736.91,306.05 L1737.91,307.04 L1738.91,308.02 L1739.91,309.01 L1740.91,309.98 L1741.91,310.95 L1742.91,311.92 L1743.91,312.88 L1744.91,313.84 L1745.91,314.79 L1746.91,315.74 L1747.91,316.69 L1748.91,317.63 L1749.91,318.56 L1750.91,319.49 L1751.91,320.42 L1752.91,321.34 L1753.91,322.25 L1754.91,323.17 L1755.91,324.07 L1756.91,324.98 L1757.91,325.88 L1758.91,326.77 L1759.91,327.66 L1760.91,328.55 L1761.91,329.43 L1762.91,330.31 L1763.91,331.18 L1764.91,332.05 L1765.91,332.92 L1766.91,333.78 L1767.91,334.63 L1768.91,335.49 L1769.91,336.34 L1770.91,337.18 L1771.91,338.02 L1772.91,338.86 L1773.91,339.69 L1774.91,340.52 L1775.91,341.35 L1776.91,342.17 L1777.91,342.98 L1778.91,343.80 L1779.91,344.61 L1780.91,345.41 L1781.91,346.21 L1782.91,347.01 L1783.91,347.81 L1784.91,348.60 L1785.91,349.38 L1786.91,350.17 L1787.91,350.95 L1788.91,351.72 L1789.91,352.49 L1790.91,353.26 L1791.91,354.03 L1792.91,354.79 L1793.91,355.54 L1794.91,356.30 L1795.91,357.05 L1796.91,357.79 L1797.91,358.54 L1798.91,359.28 L1799.91,360.01 L1800.91,360.74 L1801.91,361.47 L1802.91,362.20 L1803.91,362.92 L1804.91,363.64 L1805.91,364.35 L1806.91,365.07 L1807.91,365.77 L1808.91,366.48 L1809.91,367.18 L1810.91,367.88 L1811.91,368.57 L1812.91,369.27 L1813.91,369.95 L1814.91,370.64 L1815.91,371.32 L1816.91,372.00 L1817.91,372.68 L1818.91,373.35 L1819.91,374.02 L1820.91,374.68 L1821.91,375.35 L1822.91,376.01 L1823.91,376.66 L1824.91,377.32 L1825.91,377.97 L1826.91,378.61 L1827.91,379.26 L1828.91,379.90 L1829.91,380.54 L1830.91,381.17 L1831.91,381.80 L1832.91,382.43 L1833.91,383.06 L1834.91,383.68 L1835.91,384.30 L1836.91,384.92 L1837.91,385.53 L1838.91,386.14 L1839.91,386.75 L1840.91,387.36 L1841.91,387.96 L1842.91,388.56 L1843.91,389.16 L1844.91,389.75 L1845.91,390.34 L1846.91,390.93 L1847.91,391.52 L1848.91,392.10 L1849.91,392.68 L1850.91,393.26 L1851.91,393.83 L1852.91,394.40 L1853.91,394.97 L1854.91,395.54 L1855.91,396.10 L1856.91,396.66 L1857.91,397.22 L1858.91,397.78 L1859.91,398.33 L1860.91,398.88 L1861.91,399.43 L1862.91,399.97 L1863.91,400.52 L1864.91,401.06 L1865.91,401.59 L1866.91,402.13 L1867.91,402.66 L1868.91,403.19 L1869.91,403.72 L1870.91,404.24 L1871.91,404.77 L1872.91,405.29 L1873.91,405.80 L1874.91,406.32 L1875.91,406.83 L1876.91,407.34 L1877.91,407.85 L1878.91,408.36 L1879.91,408.86 L1880.91,409.36 L1881.91,409.86 L1882.91,410.35 L1883.91,410.85 L1884.91,411.34 L1885.91,411.83 L1886.91,412.31 L1887.91,412.80 L1888.91,413.28 L1889.91,413.76 L1890.91,414.24 L1891.91,414.71 L1892.91,415.18 L1893.91,415.65 L1894.91,416.12 L1895.91,416.59 L1896.91,417.05 L1897.91,417.51 L1898.91,417.97 L1899.91,418.43 L1900.91,418.89 L1901.91,419.34 L1902.91,419.79 L1903.91,420.24 L1904.91,420.68 L1905.91,421.13 L1906.91,421.57 L1907.91,422.01 L1908.91,422.45 L1909.91,422.89 L1910.91,423.32 L1911.91,423.75 L1912.91,424.18 L1913.91,424.61 L1914.91,425.03 L1915.91,425.46 L1916.91,425.88 L1917.91,426.30 L1918.91,426.72 L1919.91,427.13 L1920.91,427.55 L1921.91,427.96 L1922.91,428.37 L1923.91,428.78 L1924.91,429.18 L1925.91,429.59 L1926.91,429.99 L1927.91,430.39 L1928.91,430.79 L1929.91,431.18 L1930.91,431.58 L1931.91,431.97 L1932.91,432.36 L1933.91,432.75 L1934.91,433.14 L1935.91,433.52 L1936.91,433.91 L1937.91,434.29 L1938.91,434.67 L1939.91,435.05 L1940.91,435.42 L1941.91,435.80 L1942.91,436.17 L1943.91,436.54 L1944.91,436.91 L1945.91,437.28 L1946.91,437.64 L1947.91,438.01 L1948.91,438.37 L1949.91,438.73 L1950.91,439.09 L1951.91,439.45 L1952.91,439.80 L1953.91,440.15 L1954.91,440.51 L1955.91,440.86 L1956.91,441.21 L1957.91,441.55 L1958.91,441.90 L1959.91,442.24 L1960.91,442.58 L1961.91,442.92 L1962.91,443.26 L1963.91,443.60 L1964.91,443.94 L1965.91,444.27 L1966.91,444.60 L1967.91,444.93 L1968.91,445.26 L1969.91,445.59 L1970.91,445.92 L1971.91,446.24 L1972.91,446.56 L1973.91,446.89 L1974.91,447.21 L1975.91,447.52 L1976.91,447.84 L1977.91,448.16 L1978.91,448.47 L1979.91,448.78 L1980.91,449.09 L1981.91,449.40 L1982.91,449.71 L1983.91,450.02 L1984.91,450.32 L1985.91,450.63 L1986.91,450.93 L1987.91,451.23 L1988.91,451.53 L1989.91,451.83 L1990.91,452.12 L1991.91,452.42 L1992.91,452.71 L1993.91,453.01 L1994.91,453.30 L1995.91,453.59 L1996.91,453.88 L1997.91,454.16 L1998.91,454.45 L1999.91,454.73 L2000.91,455.01 L2001.91,455.30 L2002.91,455.58 L2003.91,455.85 L2004.91,456.13 L2005.91,456.41 L2006.91,456.68 L2007.91,456.96 L2008.91,457.23 L2009.91,457.50 L2010.91,457.77 L2011.91,458.04 L2012.91,458.31 L2013.91,458.57 L2014.91,458.84 L2015.91,459.10 L2016.91,459.36 L2017.91,459.62 L2018.91,459.88 L2019.91,460.14 L2020.91,460.40 L2021.91,460.65 L2022.91,460.91 L2023.91,461.16 L2024.91,461.41 L2025.91,461.66 L2026.91,461.91 L2027.91,462.16 L2028.91,462.41 L2029.91,462.66 L2030.91,462.90 L2031.91,463.15 L2032.91,463.39 L2033.91,463.63 L2034.91,463.87 L2035.91,464.11 L2036.91,464.35 L2037.91,464.59 L2038.91,464.82 L2039.91,465.06 L2040.91,465.29 L2041.91,465.52 L2042.91,465.75 L2043.91,465.99 L2044.91,466.21 L2045.91,466.44 L2046.91,466.67 L2047.91,466.90 L2048.91,467.12 L2049.91,467.35 L2050.91,467.57 L2051.91,467.79 L2052.91,468.01 L2053.91,468.23 L2054.91,468.45 L2055.91,468.67 L2056.91,468.88 L2057.91,469.10 L2058.91,469.31 L2059.91,469.53 L2060.91,469.74 L2061.91,469.95" stroke="#000" stroke-width="2" fill="none" clip-path="url(#cd)"/>
<path d="M1661.91,247.92 L1662.91,251.33 L1663.91,254.60 L1664.91,257.74 L1665.91,260.76 L1666.91,263.66 L1667.91,266.45 L1668.91,269.14 L1669.91,271.74 L1670.91,274.25 L1671.91,276.67 L1672.91,279.02 L1673.91,281.29 L1674.91,283.50 L1675.91,285.64 L1676.91,287.72 L1677.91,289.75 L1678.91,291.72 L1679.91,293.64 L1680.91,295.52 L1681.91,297.35 L1682.91,299.14 L1683.91,300.89 L1684.91,302.61 L1685.91,304.29 L1686.91,305.93 L1687.91,307.55 L1688.91,309.14 L1689.91,310.70 L1690.91,312.23 L1691.91,313.74 L1692.91,315.23 L1693.91,316.69 L1694.91,318.13 L1695.91,319.55 L1696.91,320.96 L1697.91,322.34 L1698.91,323.71 L1699.91,325.06 L1700.91,326.40 L1701.91,327.72 L1702.91,329.03 L1703.91,330.32 L1704.91,331.60 L1705.91,332.87 L1706.91,334.12 L1707.91,335.36 L1708.91,336.60 L1709.91,337.82 L1710.91,339.03 L1711.91,340.23 L1712.91,341.42 L1713.91,342.60 L1714.91,343.78 L1715.91,344.94 L1716.91,346.09 L1717.91,347.24 L1718.91,348.38 L1719.91,349.51 L1720.91,350.63 L1721.91,351.75 L1722.91,352.86 L1723.91,353.96 L1724.91,355.05 L1725.91,356.14 L1726.91,357.22 L1727.91,358.29 L1728.91,359.36 L1729.91,360.42 L1730.91,361.47 L1731.91,362.52 L1732.91,363.56 L1733.91,364.60 L1734.91,365.63 L1735.91,366.65 L1736.91,367.67 L1737.91,368.69 L1738.91,369.69 L1739.91,370.70 L1740.91,371.69 L1741.91,372.69 L1742.91,373.67 L1743.91,374.65 L1744.91,375.63 L1745.91,376.60 L1746.91,377.56 L1747.91,378.53 L1748.91,379.48 L1749.91,380.43 L1750.91,381.38 L1751.91,382.32 L1752.91,383.25 L1753.91,384.19 L1754.91,385.11 L1755.91,386.03 L1756.91,386.95 L1757.91,387.86 L1758.91,388.77 L1759.91,389.67 L1760.91,390.57 L1761.91,391.47 L1762.91,392.36 L1763.91,393.24 L1764.91,394.12 L1765.91,395.00 L1766.91,395.87 L1767.91,396.74 L1768.91,397.60 L1769.91,398.46 L1770.91,399.32 L1771.91,400.17 L1772.91,401.02 L1773.91,401.86 L1774.91,402.70 L1775.91,403.53 L1776.91,404.36 L1777.91,405.19 L1778.91,406.01 L1779.91,406.83 L1780.91,407.64 L1781.91,408.45 L1782.91,409.26 L1783.91,410.06 L1784.91,410.86 L1785.91,411.65 L1786.91,412.44 L1787.91,413.23 L1788.91,414.01 L1789.91,414.79 L1790.91,415.57 L1791.91,416.34 L1792.91,417.10 L1793.91,417.87 L1794.91,418.63 L1795.91,419.38 L1796.91,420.14 L1797.91,420.89 L1798.91,421.63 L1799.91,422.37 L1800.91,423.11 L1801.91,423.84 L1802.91,424.57 L1803.91,425.30 L1804.91,426.03 L1805.91,426.75 L1806.91,427.46 L1807.91,428.18 L1808.91,428.89 L1809.91,429.59 L1810.91,430.29 L1811.91,430.99 L1812.91,431.69 L1813.91,432.38 L1814.91,433.07 L1815.91,433.76 L1816.91,434.44 L1817.91,435.12 L1818.91,435.79 L1819.91,436.47 L1820.91,437.14 L1821.91,437.80 L1822.91,438.46 L1823.91,439.12 L1824.91,439.78 L1825.91,440.43 L1826.91,441.08 L1827.91,441.73 L1828.91,442.37 L1829.91,443.01 L1830.91,443.65 L1831.91,444.28 L1832.91,444.92 L1833.91,445.54 L1834.91,446.17 L1835.91,446.79 L1836.91,447.41 L1837.91,448.03 L1838.91,448.64 L1839.91,449.25 L1840.91,449.86 L1841.91,450.46 L1842.91,451.06 L1843.91,451.66 L1844.91,452.25 L1845.91,452.85 L1846.91,453.44 L1847.91,454.02 L1848.91,454.61 L1849.91,455.19 L1850.91,455.76 L1851.91,456.34 L1852.91,456.91 L1853.91,457.48 L1854.91,458.05 L1855.91,458.61 L1856.91,459.17 L1857.91,459.73 L1858.91,460.29 L1859.91,460.84 L1860.91,461.39 L1861.91,461.94 L1862.91,462.48 L1863.91,463.03 L1864.91,463.57 L1865.91,464.10 L1866.91,464.64 L1867.91,465.17 L1868.91,465.70 L1869.91,466.23 L1870.91,466.75 L1871.91,467.27 L1872.91,467.79 L1873.91,468.31 L1874.91,468.82 L1875.91,469.33 L1876.91,469.84 L1877.91,470.35 L1878.91,470.85 L1879.91,471.36 L1880.91,471.86 L1881.91,472.35 L1882.91,472.85 L1883.91,473.34 L1884.91,473.83 L1885.91,474.32 L1886.91,474.80 L1887.91,475.28 L1888.91,475.76 L1889.91,476.24 L1890.91,476.72 L1891.91,477.19 L1892.91,477.66 L1893.91,478.13 L1894.91,478.59 L1895.91,479.06 L1896.91,479.52 L1897.91,479.98 L1898.91,480.44 L1899.91,480.89 L1900.91,481.34 L1901.91,481.80 L1902.91,482.24 L1903.91,482.69 L1904.91,483.13 L1905.91,483.58 L1906.91,484.02 L1907.91,484.45 L1908.91,484.89 L1909.91,485.32 L1910.91,485.75 L1911.91,486.18 L1912.91,486.61 L1913.91,487.03 L1914.91,487.46 L1915.91,487.88 L1916.91,488.30 L1917.91,488.71 L1918.91,489.13 L1919.91,489.54 L1920.91,489.95 L1921.91,490.36 L1922.91,490.77 L1923.91,491.17 L1924.91,491.57 L1925.91,491.98 L1926.91,492.37 L1927.91,492.77 L1928.91,493.17 L1929.91,493.56 L1930.91,493.95 L1931.91,494.34 L1932.91,494.73 L1933.91,495.11 L1934.91,495.50 L1935.91,495.88 L1936.91,496.26 L1937.91,496.64 L1938.91,497.01 L1939.91,497.39 L1940.91,497.76 L1941.91,498.13 L1942.91,498.50 L1943.91,498.86 L1944.91,499.23 L1945.91,499.59 L1946.91,499.96 L1947.91,500.32 L1948.91,500.67 L1949.91,501.03 L1950.91,501.38 L1951.91,501.74 L1952.91,502.09 L1953.91,502.44 L1954.91,502.79 L1955.91,503.13 L1956.91,503.48 L1957.91,503.82 L1958.91,504.16 L1959.91,504.50 L1960.91,504.84 L1961.91,505.17 L1962.91,505.51 L1963.91,505.84 L1964.91,506.17 L1965.91,506.50 L1966.91,506.83 L1967.91,507.16 L1968.91,507.48 L1969.91,507.81 L1970.91,508.13 L1971.91,508.45 L1972.91,508.77 L1973.91,509.08 L1974.91,509.40 L1975.91,509.71 L1976.91,510.02 L1977.91,510.34 L1978.91,510.65 L1979.91,510.95 L1980.91,511.26 L1981.91,511.56 L1982.91,511.87 L1983.91,512.17 L1984.91,512.47 L1985.91,512.77 L1986.91,513.07 L1987.91,513.36 L1988.91,513.66 L1989.91,513.95 L1990.91,514.24 L1991.91,514.53 L1992.91,514.82 L1993.91,515.11 L1994.91,515.40 L1995.91,515.68 L1996.91,515.96 L1997.91,516.25 L1998.91,516.53 L1999.91,516.81 L2000.91,517.08 L2001.91,517.36 L2002.91,517.64 L2003.91,517.91 L2004.91,518.18 L2005.91,518.45 L2006.91,518.72 L2007.91,518.99 L2008.91,519.26 L2009.91,519.52 L2010.91,519.79 L2011.91,520.05 L2012.91,520.31 L2013.91,520.58 L2014.91,520.83 L2015.91,521.09 L2016.91,521.35 L2017.91,521.61 L2018.91,521.86 L2019.91,522.11 L2020.91,522.37 L2021.91,522.62 L2022.91,522.87 L2023.91,523.11 L2024.91,523.36 L2025.91,523.61 L2026.91,523.85 L2027.91,524.10 L2028.91,524.34 L2029.91,524.58 L2030.91,524.82 L2031.91,525.06 L2032.91,525.30 L2033.91,525.53 L2034.91,525.77 L2035.91,526.00 L2036.91,526.24 L2037.91,526.47 L2038.91,526.70 L2039.91,526.93 L2040.91,527.16 L2041.91,527.38 L2042.91,527.61 L2043.91,527.84 L2044.91,528.06 L2045.91,528.28 L2046.91,528.50 L2047.91,528.73 L2048.91,528.95 L2049.91,529.16 L2050.91,529.38 L2051.91,529.60 L2052.91,529.81 L2053.91,530.03 L2054.91,530.24 L2055.91,530.45 L2056.91,530.67 L2057.91,530.88 L2058.91,531.09 L2059.91,531.29 L2060.91,531.50 L2061.91,531.71" stroke="#000" stroke-width="2" fill="none" stroke-dasharray="8 7.5" clip-path="url(#cd)"/>
<path d="M1799.6,354.6H1930.3V502.3H1799.6Z" stroke="#3a3a3a" stroke-width="1.25" fill="none"/>
<path d="M1799.6,354.6L1726.5,530.1M1930.3,354.6L1993.7,530.1M1799.6,502.3L1792.0,530.1M1930.3,502.3L1936.3,530.1" stroke="#3a3a3a" stroke-width="1.25" fill="none"/>
<rect x="1726.4" y="530.2" width="267.2" height="261.9" fill="#fff"/>
<path d="M1770.4,530.2V792.1 M1841.4,530.2V792.1 M1912.4,530.2V792.1 M1983.4,530.2V792.1 M1726.4,547.4H1993.6 M1726.4,607.5H1993.6 M1726.4,668.2H1993.6 M1726.4,729.0H1993.6 M1726.4,789.6H1993.6" stroke="#efefef" stroke-width="1" fill="none"/>
<path d="M1725.75,709.77 L1729.30,524.64 L1732.85,712.29 L1736.39,527.16 L1739.94,714.79 L1743.48,529.66 L1747.03,717.26 L1750.57,532.14 L1754.12,719.71 L1757.66,534.58 L1761.21,722.13 L1764.75,537.01 L1768.30,724.52 L1771.84,539.41 L1775.39,726.89 L1778.93,541.78 L1782.48,729.23 L1786.02,544.12 L1789.57,731.54 L1793.11,546.45 L1796.66,733.83 L1800.20,548.74 L1803.75,736.09 L1807.29,551.01 L1810.84,738.33 L1814.38,553.26 L1817.93,740.54 L1821.47,555.48 L1825.02,742.73 L1828.56,557.67 L1832.11,744.88 L1835.65,559.84 L1839.20,747.02 L1842.74,561.99 L1846.29,749.12 L1849.83,564.11 L1853.38,751.20 L1856.92,566.20 L1860.47,753.26 L1864.01,568.27 L1867.56,755.29 L1871.10,570.31 L1874.65,757.29 L1878.19,572.33 L1881.74,759.27 L1885.28,574.32 L1888.83,761.22 L1892.37,576.29 L1895.92,763.14 L1899.46,578.23 L1903.01,765.04 L1906.55,580.14 L1910.10,766.91 L1913.64,582.03 L1917.19,768.76 L1920.73,583.90 L1924.28,770.58 L1927.82,585.74 L1931.37,772.37 L1934.91,587.55 L1938.46,774.14 L1942.00,589.34 L1945.55,775.88 L1949.09,591.11 L1952.64,777.60 L1956.18,592.84 L1959.73,779.29 L1963.27,594.56 L1966.82,780.95 L1970.36,596.25 L1973.91,782.59 L1977.45,597.91 L1981.00,784.20 L1984.54,599.54 L1988.09,785.78 L1991.63,601.16 L1995.18,787.34 L1998.72,602.74" stroke="#fbd592" stroke-width="1.8" fill="none" clip-path="url(#ci)"/>
<path d="M1726.40,523.60 L1729.07,524.56 L1731.74,525.51 L1734.42,526.46 L1737.09,527.41 L1739.76,528.36 L1742.43,529.30 L1745.10,530.23 L1747.78,531.16 L1750.45,532.09 L1753.12,533.02 L1755.79,533.94 L1758.46,534.86 L1761.14,535.78 L1763.81,536.69 L1766.48,537.60 L1769.15,538.50 L1771.82,539.40 L1774.50,540.30 L1777.17,541.19 L1779.84,542.08 L1782.51,542.97 L1785.18,543.85 L1787.86,544.73 L1790.53,545.60 L1793.20,546.48 L1795.87,547.34 L1798.54,548.21 L1801.22,549.07 L1803.89,549.93 L1806.56,550.78 L1809.23,551.63 L1811.90,552.48 L1814.58,553.32 L1817.25,554.16 L1819.92,555.00 L1822.59,555.83 L1825.26,556.66 L1827.94,557.48 L1830.61,558.30 L1833.28,559.12 L1835.95,559.93 L1838.62,560.74 L1841.30,561.55 L1843.97,562.36 L1846.64,563.16 L1849.31,563.95 L1851.98,564.74 L1854.66,565.53 L1857.33,566.32 L1860.00,567.10 L1862.67,567.88 L1865.34,568.65 L1868.02,569.42 L1870.69,570.19 L1873.36,570.96 L1876.03,571.72 L1878.70,572.47 L1881.38,573.22 L1884.05,573.97 L1886.72,574.72 L1889.39,575.46 L1892.06,576.20 L1894.74,576.94 L1897.41,577.67 L1900.08,578.39 L1902.75,579.12 L1905.42,579.84 L1908.10,580.56 L1910.77,581.27 L1913.44,581.98 L1916.11,582.69 L1918.78,583.39 L1921.46,584.09 L1924.13,584.78 L1926.80,585.48 L1929.47,586.16 L1932.14,586.85 L1934.82,587.53 L1937.49,588.21 L1940.16,588.88 L1942.83,589.55 L1945.50,590.22 L1948.18,590.88 L1950.85,591.54 L1953.52,592.20 L1956.19,592.85 L1958.86,593.50 L1961.54,594.14 L1964.21,594.78 L1966.88,595.42 L1969.55,596.05 L1972.22,596.68 L1974.90,597.31 L1977.57,597.94 L1980.24,598.55 L1982.91,599.17 L1985.58,599.78 L1988.26,600.39 L1990.93,601.00 L1993.60,601.60" stroke="#000" stroke-width="2" fill="none" clip-path="url(#ci)"/>
<path d="M1726.40,710.00 L1729.07,710.95 L1731.74,711.90 L1734.42,712.85 L1737.09,713.79 L1739.76,714.73 L1742.43,715.66 L1745.10,716.59 L1747.78,717.52 L1750.45,718.45 L1753.12,719.37 L1755.79,720.28 L1758.46,721.19 L1761.14,722.10 L1763.81,723.01 L1766.48,723.91 L1769.15,724.81 L1771.82,725.70 L1774.50,726.59 L1777.17,727.48 L1779.84,728.36 L1782.51,729.24 L1785.18,730.11 L1787.86,730.99 L1790.53,731.85 L1793.20,732.72 L1795.87,733.58 L1798.54,734.44 L1801.22,735.29 L1803.89,736.14 L1806.56,736.99 L1809.23,737.83 L1811.90,738.67 L1814.58,739.50 L1817.25,740.33 L1819.92,741.16 L1822.59,741.98 L1825.26,742.80 L1827.94,743.62 L1830.61,744.43 L1833.28,745.24 L1835.95,746.05 L1838.62,746.85 L1841.30,747.64 L1843.97,748.44 L1846.64,749.23 L1849.31,750.02 L1851.98,750.80 L1854.66,751.58 L1857.33,752.35 L1860.00,753.12 L1862.67,753.89 L1865.34,754.66 L1868.02,755.42 L1870.69,756.18 L1873.36,756.93 L1876.03,757.68 L1878.70,758.42 L1881.38,759.17 L1884.05,759.91 L1886.72,760.64 L1889.39,761.37 L1892.06,762.10 L1894.74,762.82 L1897.41,763.54 L1900.08,764.26 L1902.75,764.97 L1905.42,765.68 L1908.10,766.39 L1910.77,767.09 L1913.44,767.79 L1916.11,768.48 L1918.78,769.17 L1921.46,769.86 L1924.13,770.54 L1926.80,771.22 L1929.47,771.89 L1932.14,772.57 L1934.82,773.23 L1937.49,773.90 L1940.16,774.56 L1942.83,775.22 L1945.50,775.87 L1948.18,776.52 L1950.85,777.17 L1953.52,777.81 L1956.19,778.45 L1958.86,779.08 L1961.54,779.71 L1964.21,780.34 L1966.88,780.96 L1969.55,781.59 L1972.22,782.20 L1974.90,782.81 L1977.57,783.42 L1980.24,784.03 L1982.91,784.63 L1985.58,785.23 L1988.26,785.82 L1990.93,786.41 L1993.60,787.00" stroke="#000" stroke-width="2" fill="none" stroke-dasharray="8 7.5" clip-path="url(#ci)"/>
<rect x="1726.4" y="530.2" width="267.2" height="261.9" fill="none" stroke="#3a3a3a" stroke-width="1.3"/>
<rect x="1730.2" y="131.6" width="261.6" height="131.8" fill="#fff" stroke="#262626" stroke-width="1.3"/>
<path d="M1743,156.4H1864.3" stroke="#000" stroke-width="2"/>
<path d="M1743,198.3H1864.3" stroke="#f8b230" stroke-width="2"/>
<path d="M1742.8,238.2H1864.3" stroke="#000" stroke-width="2" stroke-dasharray="8 7.5"/>
<path d="M1660.70,820.00v-7.5 M1660.70,99.80v7.5 M1752.30,820.00v-7.5 M1752.30,99.80v7.5 M1843.90,820.00v-7.5 M1843.90,99.80v7.5 M1935.50,820.00v-7.5 M1935.50,99.80v7.5 M2027.10,820.00v-7.5 M2027.10,99.80v7.5 M1660.70,820.00h7.5 M2061.20,820.00h-7.5 M1660.70,717.13h7.5 M2061.20,717.13h-7.5 M1660.70,614.26h7.5 M2061.20,614.26h-7.5 M1660.70,511.39h7.5 M2061.20,511.39h-7.5 M1660.70,408.52h7.5 M2061.20,408.52h-7.5 M1660.70,305.65h7.5 M2061.20,305.65h-7.5 M1660.70,202.78h7.5 M2061.20,202.78h-7.5 M1660.70,99.91h7.5 M2061.20,99.91h-7.5" stroke="#2a2a2a" stroke-width="1.8" fill="none"/>
<rect x="1660.70" y="99.80" width="400.50" height="720.20" stroke="#2a2a2a" stroke-width="1.9" fill="none"/>
<text x="917.34" y="33.30" font-size="46" textLength="328.56" lengthAdjust="spacingAndGlyphs" fill="#222222">Anode Overhang</text>
<text x="135.26" y="87.00" font-size="35.2" textLength="361.49" lengthAdjust="spacingAndGlyphs" fill="#222222">a) Electrode Inhom. EoC</text>
<text x="151.77" y="898.80" font-size="35.2" textLength="327.19" lengthAdjust="spacingAndGlyphs" fill="#222222">Electrode Width / mm</text>
<text transform="translate(45.20,659.30) rotate(-90)" x="-1.01" y="0" font-size="35.2" textLength="400.78" lengthAdjust="spacingAndGlyphs" fill="#222222">Lithiation degree at EoC / -</text>
<text x="141.08" y="857.90" font-size="36.0" textLength="36.00" lengthAdjust="spacingAndGlyphs" fill="#222222">19</text>
<text x="231.05" y="857.90" font-size="36.0" textLength="36.00" lengthAdjust="spacingAndGlyphs" fill="#222222">21</text>
<text x="319.51" y="857.90" font-size="36.0" textLength="36.00" lengthAdjust="spacingAndGlyphs" fill="#222222">23</text>
<text x="408.35" y="857.90" font-size="36.0" textLength="36.00" lengthAdjust="spacingAndGlyphs" fill="#222222">25</text>
<text x="497.01" y="857.90" font-size="36.0" textLength="36.00" lengthAdjust="spacingAndGlyphs" fill="#222222">27</text>
<text x="63.49" y="803.10" font-size="36.0" textLength="45.00" lengthAdjust="spacingAndGlyphs" fill="#222222">0.2</text>
<text x="62.91" y="672.00" font-size="36.0" textLength="45.00" lengthAdjust="spacingAndGlyphs" fill="#222222">0.3</text>
<text x="62.06" y="540.90" font-size="36.0" textLength="45.00" lengthAdjust="spacingAndGlyphs" fill="#222222">0.4</text>
<text x="62.91" y="409.80" font-size="36.0" textLength="45.00" lengthAdjust="spacingAndGlyphs" fill="#222222">0.5</text>
<text x="62.57" y="278.70" font-size="36.0" textLength="45.00" lengthAdjust="spacingAndGlyphs" fill="#222222">0.6</text>
<text x="62.54" y="147.60" font-size="36.0" textLength="45.00" lengthAdjust="spacingAndGlyphs" fill="#222222">0.7</text>
<text x="157.16" y="262.70" font-size="35.2" textLength="91.53" lengthAdjust="spacingAndGlyphs" fill="#444">Anode</text>
<text x="159.82" y="703.80" font-size="35.2" textLength="120.54" lengthAdjust="spacingAndGlyphs" fill="#444">Cathode</text>
<text x="650.70" y="87.00" font-size="35.2" textLength="361.60" lengthAdjust="spacingAndGlyphs" fill="#222222">b) Electrode Inhom. EoD</text>
<text x="666.47" y="898.50" font-size="35.2" textLength="327.99" lengthAdjust="spacingAndGlyphs" fill="#222222">Electrode Width / mm</text>
<text transform="translate(559.70,659.80) rotate(-90)" x="-1.01" y="0" font-size="35.2" textLength="401.78" lengthAdjust="spacingAndGlyphs" fill="#222222">Lithiation degree at EoD / -</text>
<text x="656.17" y="857.90" font-size="36.0" textLength="36.00" lengthAdjust="spacingAndGlyphs" fill="#222222">19</text>
<text x="746.32" y="857.90" font-size="36.0" textLength="36.00" lengthAdjust="spacingAndGlyphs" fill="#222222">21</text>
<text x="834.96" y="857.90" font-size="36.0" textLength="36.00" lengthAdjust="spacingAndGlyphs" fill="#222222">23</text>
<text x="923.98" y="857.90" font-size="36.0" textLength="36.00" lengthAdjust="spacingAndGlyphs" fill="#222222">25</text>
<text x="1012.82" y="857.90" font-size="36.0" textLength="36.00" lengthAdjust="spacingAndGlyphs" fill="#222222">27</text>
<text x="603.97" y="829.60" font-size="36.0" textLength="18.00" lengthAdjust="spacingAndGlyphs" fill="#222222">0</text>
<text x="577.76" y="744.74" font-size="36.0" textLength="45.00" lengthAdjust="spacingAndGlyphs" fill="#222222">0.1</text>
<text x="577.59" y="659.88" font-size="36.0" textLength="45.00" lengthAdjust="spacingAndGlyphs" fill="#222222">0.2</text>
<text x="577.01" y="575.02" font-size="36.0" textLength="45.00" lengthAdjust="spacingAndGlyphs" fill="#222222">0.3</text>
<text x="576.16" y="490.16" font-size="36.0" textLength="45.00" lengthAdjust="spacingAndGlyphs" fill="#222222">0.4</text>
<text x="577.01" y="405.30" font-size="36.0" textLength="45.00" lengthAdjust="spacingAndGlyphs" fill="#222222">0.5</text>
<text x="576.67" y="320.44" font-size="36.0" textLength="45.00" lengthAdjust="spacingAndGlyphs" fill="#222222">0.6</text>
<text x="576.64" y="235.58" font-size="36.0" textLength="45.00" lengthAdjust="spacingAndGlyphs" fill="#222222">0.7</text>
<text x="576.97" y="150.72" font-size="36.0" textLength="45.00" lengthAdjust="spacingAndGlyphs" fill="#222222">0.8</text>
<text x="669.02" y="179.80" font-size="35.2" textLength="120.03" lengthAdjust="spacingAndGlyphs" fill="#444">Cathode</text>
<text x="663.76" y="780.00" font-size="35.2" textLength="91.53" lengthAdjust="spacingAndGlyphs" fill="#444">Anode</text>
<text x="1327.25" y="163.50" font-size="35.2" textLength="104.64" lengthAdjust="spacingAndGlyphs" fill="#222222">Cycle 1</text>
<text x="1327.24" y="204.20" font-size="35.2" textLength="122.03" lengthAdjust="spacingAndGlyphs" fill="#222222">Cycle 50</text>
<text x="1327.24" y="244.50" font-size="35.2" textLength="138.02" lengthAdjust="spacingAndGlyphs" fill="#222222">Cycle 150</text>
<text x="1327.82" y="284.60" font-size="35.2" textLength="82.56" lengthAdjust="spacingAndGlyphs" fill="#222222">noAO</text>
<text x="1156.36" y="87.00" font-size="35.2" textLength="380.08" lengthAdjust="spacingAndGlyphs" fill="#222222">c) Electrolyte Inhom. EoC</text>
<text x="1183.08" y="899.00" font-size="35.2" textLength="325.48" lengthAdjust="spacingAndGlyphs" fill="#222222">Electrode Width / mm</text>
<text transform="translate(1075.30,694.80) rotate(-90)" x="-1.03" y="0" font-size="35.2" textLength="471.54" lengthAdjust="spacingAndGlyphs" fill="#222222">Electrolyte concentration / mol/l</text>
<text x="1137.50" y="858.20" font-size="36.0" textLength="18.00" lengthAdjust="spacingAndGlyphs" fill="#222222">0</text>
<text x="1211.14" y="858.20" font-size="36.0" textLength="18.00" lengthAdjust="spacingAndGlyphs" fill="#222222">5</text>
<text x="1275.56" y="858.20" font-size="36.0" textLength="36.00" lengthAdjust="spacingAndGlyphs" fill="#222222">10</text>
<text x="1349.56" y="858.20" font-size="36.0" textLength="36.00" lengthAdjust="spacingAndGlyphs" fill="#222222">15</text>
<text x="1424.31" y="858.20" font-size="36.0" textLength="36.00" lengthAdjust="spacingAndGlyphs" fill="#222222">20</text>
<text x="1498.31" y="858.20" font-size="36.0" textLength="36.00" lengthAdjust="spacingAndGlyphs" fill="#222222">25</text>
<text x="1092.47" y="829.10" font-size="36.0" textLength="45.00" lengthAdjust="spacingAndGlyphs" fill="#222222">0.8</text>
<text x="1092.58" y="739.02" font-size="36.0" textLength="45.00" lengthAdjust="spacingAndGlyphs" fill="#222222">0.9</text>
<text x="1120.26" y="648.94" font-size="36.0" textLength="18.00" lengthAdjust="spacingAndGlyphs" fill="#222222">1</text>
<text x="1093.26" y="558.86" font-size="36.0" textLength="45.00" lengthAdjust="spacingAndGlyphs" fill="#222222">1.1</text>
<text x="1093.09" y="468.78" font-size="36.0" textLength="45.00" lengthAdjust="spacingAndGlyphs" fill="#222222">1.2</text>
<text x="1092.51" y="378.70" font-size="36.0" textLength="45.00" lengthAdjust="spacingAndGlyphs" fill="#222222">1.3</text>
<text x="1091.66" y="288.62" font-size="36.0" textLength="45.00" lengthAdjust="spacingAndGlyphs" fill="#222222">1.4</text>
<text x="1092.51" y="198.54" font-size="36.0" textLength="45.00" lengthAdjust="spacingAndGlyphs" fill="#222222">1.5</text>
<text x="1092.17" y="108.46" font-size="36.0" textLength="45.00" lengthAdjust="spacingAndGlyphs" fill="#222222">1.6</text>
<text x="1873.48" y="165.20" font-size="35.2" textLength="62.77" lengthAdjust="spacingAndGlyphs" fill="#222222">EoC</text>
<text x="1873.10" y="205.40" font-size="35.2" textLength="107.95" lengthAdjust="spacingAndGlyphs" fill="#222222">Cycling</text>
<text x="1873.51" y="246.30" font-size="35.2" textLength="62.96" lengthAdjust="spacingAndGlyphs" fill="#222222">EoD</text>
<text x="1669.42" y="87.00" font-size="35.2" textLength="384.83" lengthAdjust="spacingAndGlyphs" fill="#222222">d) Average Overhang SoC</text>
<text x="1789.83" y="891.00" font-size="35.2" textLength="143.67" lengthAdjust="spacingAndGlyphs" fill="#222222">Cycles / -</text>
<text transform="translate(1599.70,650.30) rotate(-90)" x="-0.35" y="0" font-size="35.2" textLength="382.06" lengthAdjust="spacingAndGlyphs" fill="#222222">Anode Overhang SoC / %</text>
<text x="1653.01" y="852.50" font-size="31.7" textLength="15.37" lengthAdjust="spacingAndGlyphs" fill="#222222">0</text>
<text x="1736.62" y="852.50" font-size="31.7" textLength="30.75" lengthAdjust="spacingAndGlyphs" fill="#222222">50</text>
<text x="1820.07" y="852.50" font-size="31.7" textLength="46.12" lengthAdjust="spacingAndGlyphs" fill="#222222">100</text>
<text x="1911.67" y="852.50" font-size="31.7" textLength="46.12" lengthAdjust="spacingAndGlyphs" fill="#222222">150</text>
<text x="2003.95" y="852.50" font-size="31.7" textLength="46.12" lengthAdjust="spacingAndGlyphs" fill="#222222">200</text>
<text x="1639.80" y="828.30" font-size="31.7" textLength="15.37" lengthAdjust="spacingAndGlyphs" fill="#222222">0</text>
<text x="1624.42" y="725.43" font-size="31.7" textLength="30.75" lengthAdjust="spacingAndGlyphs" fill="#222222">10</text>
<text x="1624.42" y="622.56" font-size="31.7" textLength="30.75" lengthAdjust="spacingAndGlyphs" fill="#222222">20</text>
<text x="1624.42" y="519.69" font-size="31.7" textLength="30.75" lengthAdjust="spacingAndGlyphs" fill="#222222">30</text>
<text x="1624.42" y="416.82" font-size="31.7" textLength="30.75" lengthAdjust="spacingAndGlyphs" fill="#222222">40</text>
<text x="1624.42" y="313.95" font-size="31.7" textLength="30.75" lengthAdjust="spacingAndGlyphs" fill="#222222">50</text>
<text x="1624.42" y="211.08" font-size="31.7" textLength="30.75" lengthAdjust="spacingAndGlyphs" fill="#222222">60</text>
<text x="1624.42" y="108.21" font-size="31.7" textLength="30.75" lengthAdjust="spacingAndGlyphs" fill="#222222">70</text>
</svg>
</body></html>
